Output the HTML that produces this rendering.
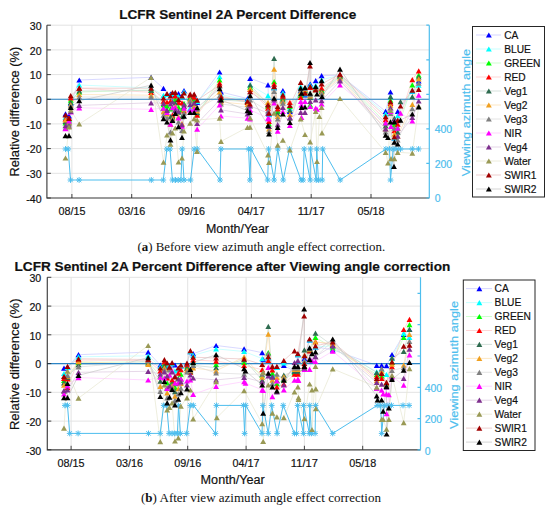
<!DOCTYPE html><html><head><meta charset="utf-8"><style>html,body{margin:0;padding:0;background:#fff;}svg{display:block;}</style></head><body><svg width="550" height="511" viewBox="0 0 550 511">
<rect width="550" height="511" fill="#fff"/>
<path d="M46.9 25.2H429.3 M46.9 49.9H429.3 M46.9 74.6H429.3 M46.9 99.3H429.3 M46.9 123.9H429.3 M46.9 148.6H429.3 M46.9 173.3H429.3 M46.9 198.0H429.3 M71.9 25.2V198.0 M131.7 25.2V198.0 M191.5 25.2V198.0 M251.4 25.2V198.0 M311.2 25.2V198.0 M371.0 25.2V198.0" stroke="#e3e3e3" stroke-width="1" fill="none"/>
<path d="M65.5 113.9L69.0 116.0L70.7 103.7L79.3 80.0L151.1 77.3L163.5 88.4L167.0 94.5L170.5 94.0L172.5 93.5L175.3 94.5L178.5 93.6L182.0 97.0L184.0 90.5L190.2 109.1L194.2 95.1L197.2 102.4L219.6 72.0L221.0 92.0L247.5 98.6L250.2 78.3L268.0 84.9L269.0 114.2L274.1 87.6L277.7 111.5L282.9 90.7L289.9 111.5L300.7 90.7L305.0 95.0L310.2 84.0L315.7 80.7L321.6 75.7L340.0 75.1L385.6 111.3L390.5 92.0L394.4 137.9L397.7 111.3L412.3 91.2L418.7 81.0" stroke="#c8c8ff" stroke-width="0.7" fill="none"/>
<path d="M65.5 117.4L69.0 119.0L70.7 102.7L79.3 85.0L151.1 88.0L163.5 95.4L167.0 94.5L170.5 95.0L172.5 93.5L175.3 93.4L178.5 96.5L182.0 97.0L184.0 91.8L190.2 108.1L194.2 95.1L197.2 101.3L219.6 76.6L221.0 94.9L247.5 99.9L250.2 84.9L268.0 95.7L269.0 114.2L274.1 87.6L277.7 109.0L282.9 92.8L289.9 108.4L300.7 86.6L305.0 94.0L310.2 85.1L315.7 85.3L321.6 79.8L340.0 75.1L385.6 113.9L390.5 96.8L394.4 137.9L397.7 115.7L412.3 91.2L418.7 85.2" stroke="#b8ffff" stroke-width="0.7" fill="none"/>
<path d="M65.5 123.0L69.0 120.0L70.7 100.2L79.3 92.0L151.1 90.0L163.5 104.6L167.0 106.0L170.5 108.8L172.5 116.3L175.3 99.3L178.5 107.2L182.0 109.8L184.0 103.3L190.2 96.9L194.2 100.2L197.2 113.9L219.6 80.0L221.0 98.0L247.5 102.0L250.2 87.2L268.0 106.2L269.0 123.9L274.1 81.6L277.7 111.5L282.9 98.2L289.9 106.3L300.7 95.5L305.0 91.2L310.2 104.8L315.7 88.8L321.6 89.8L340.0 75.8L385.6 122.8L390.5 100.1L394.4 124.6L397.7 128.1L412.3 84.9L418.7 75.2" stroke="#c0ffc0" stroke-width="0.7" fill="none"/>
<path d="M65.5 119.0L69.0 118.0L70.7 97.9L79.3 88.2L151.1 92.3L163.5 101.1L167.0 102.0L170.5 101.0L172.5 115.2L175.3 95.8L178.5 102.4L182.0 102.9L184.0 110.8L190.2 95.5L194.2 97.2L197.2 115.2L219.6 83.0L221.0 96.0L247.5 102.4L250.2 89.4L268.0 108.2L269.0 121.4L274.1 84.1L277.7 109.0L282.9 96.6L289.9 102.3L300.7 97.3L305.0 92.1L310.2 87.4L315.7 89.4L321.6 88.2L340.0 74.9L385.6 119.7L390.5 103.4L394.4 130.7L397.7 124.1L412.3 79.6L418.7 70.8" stroke="#ffc8c8" stroke-width="0.7" fill="none"/>
<path d="M65.5 121.5L69.0 122.0L70.7 102.5L79.3 91.0L151.1 90.5L163.5 108.1L167.0 110.0L170.5 116.5L172.5 117.3L175.3 102.8L178.5 112.1L182.0 116.7L184.0 106.5L190.2 98.3L194.2 103.3L197.2 112.4L219.6 86.0L221.0 100.0L247.5 101.5L250.2 85.0L268.0 104.3L269.0 126.4L274.1 58.3L277.7 114.0L282.9 99.9L289.9 110.3L300.7 93.7L305.0 90.2L310.2 97.3L315.7 88.2L321.6 91.5L340.0 76.6L385.6 125.8L390.5 96.7L394.4 118.4L397.7 132.1L400.5 101.7L412.3 96.7L418.7 77.0" stroke="#c8d8d0" stroke-width="0.7" fill="none"/>
<path d="M65.5 120.0L69.0 123.0L70.7 104.8L79.3 94.5L151.1 95.2L163.5 111.7L167.0 114.0L170.5 124.3L172.5 118.4L175.3 106.4L178.5 116.9L182.0 123.6L184.0 109.7L190.2 99.7L194.2 106.4L197.2 110.8L219.6 92.0L221.0 102.0L247.5 104.5L250.2 89.0L268.0 102.3L269.0 128.9L274.1 69.1L277.7 116.5L282.9 101.5L289.9 114.3L300.7 91.8L305.0 89.3L310.2 95.9L315.7 87.7L321.6 92.8L340.0 78.2L385.6 128.9L390.5 105.1L394.4 134.2L397.7 136.0L412.3 104.3L418.7 78.8" stroke="#fde0b0" stroke-width="0.7" fill="none"/>
<path d="M65.5 127.8L69.0 124.0L70.7 106.0L79.3 97.0L151.1 97.0L163.5 115.2L167.0 118.0L170.5 132.0L172.5 119.4L175.3 109.9L178.5 121.8L182.0 130.5L184.0 112.9L190.2 101.1L194.2 109.4L197.2 109.2L219.6 96.0L221.0 104.0L247.5 107.4L250.2 100.0L268.0 111.0L269.0 131.4L274.1 91.5L277.7 119.0L282.9 103.2L289.9 118.3L300.7 90.0L305.0 88.3L310.2 94.6L315.7 87.1L321.6 94.0L340.0 79.9L385.6 132.0L390.5 113.5L394.4 128.1L397.7 140.0L412.3 108.7L418.7 83.2" stroke="#dcdcdc" stroke-width="0.7" fill="none"/>
<path d="M65.5 128.6L69.0 121.0L70.7 112.0L79.3 107.8L151.1 109.3L163.5 108.1L167.0 112.5L170.5 124.2L172.5 107.7L175.3 107.3L178.5 118.0L182.0 126.1L184.0 108.1L190.2 110.0L194.2 109.0L197.2 129.1L219.6 105.0L221.0 116.0L247.5 118.2L250.0 118.9L250.2 110.0L268.0 118.1L269.0 118.9L274.1 103.0L277.7 131.2L282.9 111.5L289.9 125.5L300.7 101.5L301.5 104.8L301.5 117.3L305.0 101.5L310.2 106.5L315.7 108.1L317.0 109.1L321.6 104.0L340.0 84.9L385.6 122.8L390.5 111.3L391.0 126.3L394.4 120.9L397.7 128.1L400.5 113.1L412.3 121.0L418.7 95.1" stroke="#ffc8ff" stroke-width="0.7" fill="none"/>
<path d="M65.5 125.6L69.0 126.0L70.7 111.4L79.3 105.4L151.1 102.8L163.5 103.3L167.0 110.3L170.5 104.0L172.5 102.0L175.3 110.3L178.5 111.2L182.0 124.7L184.0 104.6L190.2 104.6L194.2 102.9L197.2 123.5L219.6 100.0L221.0 109.9L247.5 114.0L250.2 106.0L268.0 113.1L269.0 126.4L274.1 100.0L277.7 124.6L282.9 107.5L289.9 117.3L300.7 112.3L305.0 112.4L310.2 101.5L315.7 99.8L321.6 100.7L340.0 81.0L385.6 128.9L390.5 107.8L394.4 120.9L397.7 136.1L412.3 117.5L418.7 101.0" stroke="#dcc8e0" stroke-width="0.7" fill="none"/>
<path d="M65.5 158.0L69.0 127.0L70.7 110.0L79.3 124.0L151.1 77.3L163.5 162.2L167.0 135.0L170.5 144.2L172.5 133.0L175.3 128.0L178.5 162.0L182.0 158.0L184.0 131.0L190.2 123.1L194.2 118.7L197.0 151.3L197.2 120.0L219.6 118.2L221.0 141.4L247.5 127.3L250.0 127.1L250.2 118.0L268.0 154.9L269.0 162.3L274.1 113.2L277.7 145.1L282.9 140.2L289.9 150.0L300.7 118.9L305.0 134.5L310.2 141.8L315.7 111.5L317.0 161.5L319.4 116.5L321.6 107.3L322.0 132.8L340.0 98.5L385.6 152.3L388.0 163.0L390.5 110.3L391.0 158.6L394.4 158.6L397.7 152.3L412.3 153.2L418.7 106.0" stroke="#e6e6d0" stroke-width="0.7" fill="none"/>
<path d="M65.5 115.0L69.0 118.5L70.7 95.6L79.3 88.2L151.1 88.2L163.5 98.0L167.0 93.5L170.5 96.0L172.5 92.5L175.3 92.3L178.5 99.5L182.0 96.0L184.0 93.0L190.2 94.1L194.2 94.1L197.2 100.2L219.6 85.0L221.0 97.4L247.5 101.1L250.0 104.0L250.2 91.6L268.0 104.8L269.0 113.2L274.1 86.6L277.7 106.5L282.9 94.9L289.9 105.4L300.7 82.4L305.0 93.1L310.0 65.8L310.2 86.3L315.7 90.0L321.6 84.0L340.0 74.1L385.6 116.6L390.5 101.7L394.4 136.9L397.7 120.1L400.5 106.0L412.3 90.2L418.7 89.3" stroke="#e8c0c0" stroke-width="0.7" fill="none"/>
<path d="M65.5 135.7L69.0 135.7L70.7 107.3L79.3 100.7L151.1 85.2L163.5 118.7L167.0 122.0L170.5 139.8L172.5 120.5L175.3 113.4L178.5 126.6L182.0 137.4L184.0 116.1L190.2 112.5L194.2 112.5L197.2 107.7L219.6 88.6L221.0 99.9L247.5 110.7L250.0 112.4L250.2 95.7L268.0 125.6L269.0 133.9L274.1 98.2L277.7 127.3L282.9 114.0L289.9 122.3L300.7 88.2L301.5 93.2L301.5 107.3L305.0 87.4L305.0 107.0L310.0 62.5L310.2 93.2L315.7 86.5L317.0 94.0L321.6 80.7L322.0 96.5L340.0 69.1L385.6 135.1L388.0 137.5L390.5 121.9L394.0 166.3L394.4 121.9L394.4 142.1L397.7 144.0L400.5 120.1L412.3 114.0L418.7 106.9" stroke="#c8c8c8" stroke-width="0.7" fill="none"/>
<path d="M46.9 99.26H429.3" stroke="#2a84c6" stroke-width="1.2"/>
<path d="M65.5 149.0L68.2 149.0L70.5 180.0L79.1 180.0L151.3 180.0L163.3 180.0L166.9 149.0L170.0 149.0L172.4 180.0L175.5 180.0L178.2 180.0L180.9 180.0L182.2 149.0L184.0 180.0L190.5 180.0L194.2 149.0L197.3 149.0L220.0 180.0L220.9 149.0L248.6 149.0L249.9 180.0L251.0 149.0L267.7 180.0L268.6 149.0L274.1 180.0L277.7 149.0L283.2 180.0L289.5 149.0L301.0 180.0L303.1 180.0L304.2 149.0L310.2 180.0L310.4 149.0L316.2 180.0L316.7 149.0L318.4 180.0L322.2 180.0L322.7 149.0L340.2 180.0L385.9 149.0L389.5 149.0L390.5 180.0L393.2 149.0L396.8 149.0L400.5 149.0L412.3 149.0L418.6 149.0" stroke="#4dbeee" stroke-width="1" fill="none"/>
<path d="M62.6 149.0H68.4M65.5 146.1V151.9M63.3 146.8L67.7 151.2M63.3 151.2L67.7 146.8" stroke="#4dbeee" stroke-width="1" fill="none"/>
<path d="M65.3 149.0H71.1M68.2 146.1V151.9M66.0 146.8L70.4 151.2M66.0 151.2L70.4 146.8" stroke="#4dbeee" stroke-width="1" fill="none"/>
<path d="M67.6 180.0H73.4M70.5 177.1V182.9M68.3 177.8L72.7 182.2M68.3 182.2L72.7 177.8" stroke="#4dbeee" stroke-width="1" fill="none"/>
<path d="M76.2 180.0H82.0M79.1 177.1V182.9M76.9 177.8L81.3 182.2M76.9 182.2L81.3 177.8" stroke="#4dbeee" stroke-width="1" fill="none"/>
<path d="M148.4 180.0H154.2M151.3 177.1V182.9M149.1 177.8L153.5 182.2M149.1 182.2L153.5 177.8" stroke="#4dbeee" stroke-width="1" fill="none"/>
<path d="M160.4 180.0H166.2M163.3 177.1V182.9M161.1 177.8L165.5 182.2M161.1 182.2L165.5 177.8" stroke="#4dbeee" stroke-width="1" fill="none"/>
<path d="M164.0 149.0H169.8M166.9 146.1V151.9M164.7 146.8L169.1 151.2M164.7 151.2L169.1 146.8" stroke="#4dbeee" stroke-width="1" fill="none"/>
<path d="M167.1 149.0H172.9M170.0 146.1V151.9M167.8 146.8L172.2 151.2M167.8 151.2L172.2 146.8" stroke="#4dbeee" stroke-width="1" fill="none"/>
<path d="M169.5 180.0H175.3M172.4 177.1V182.9M170.2 177.8L174.6 182.2M170.2 182.2L174.6 177.8" stroke="#4dbeee" stroke-width="1" fill="none"/>
<path d="M172.6 180.0H178.4M175.5 177.1V182.9M173.3 177.8L177.7 182.2M173.3 182.2L177.7 177.8" stroke="#4dbeee" stroke-width="1" fill="none"/>
<path d="M175.3 180.0H181.1M178.2 177.1V182.9M176.0 177.8L180.4 182.2M176.0 182.2L180.4 177.8" stroke="#4dbeee" stroke-width="1" fill="none"/>
<path d="M178.0 180.0H183.8M180.9 177.1V182.9M178.7 177.8L183.1 182.2M178.7 182.2L183.1 177.8" stroke="#4dbeee" stroke-width="1" fill="none"/>
<path d="M179.3 149.0H185.1M182.2 146.1V151.9M180.0 146.8L184.4 151.2M180.0 151.2L184.4 146.8" stroke="#4dbeee" stroke-width="1" fill="none"/>
<path d="M181.1 180.0H186.9M184.0 177.1V182.9M181.8 177.8L186.2 182.2M181.8 182.2L186.2 177.8" stroke="#4dbeee" stroke-width="1" fill="none"/>
<path d="M187.6 180.0H193.4M190.5 177.1V182.9M188.3 177.8L192.7 182.2M188.3 182.2L192.7 177.8" stroke="#4dbeee" stroke-width="1" fill="none"/>
<path d="M191.3 149.0H197.1M194.2 146.1V151.9M192.0 146.8L196.4 151.2M192.0 151.2L196.4 146.8" stroke="#4dbeee" stroke-width="1" fill="none"/>
<path d="M194.4 149.0H200.2M197.3 146.1V151.9M195.1 146.8L199.5 151.2M195.1 151.2L199.5 146.8" stroke="#4dbeee" stroke-width="1" fill="none"/>
<path d="M217.1 180.0H222.9M220.0 177.1V182.9M217.8 177.8L222.2 182.2M217.8 182.2L222.2 177.8" stroke="#4dbeee" stroke-width="1" fill="none"/>
<path d="M218.0 149.0H223.8M220.9 146.1V151.9M218.7 146.8L223.1 151.2M218.7 151.2L223.1 146.8" stroke="#4dbeee" stroke-width="1" fill="none"/>
<path d="M245.7 149.0H251.5M248.6 146.1V151.9M246.4 146.8L250.8 151.2M246.4 151.2L250.8 146.8" stroke="#4dbeee" stroke-width="1" fill="none"/>
<path d="M247.0 180.0H252.8M249.9 177.1V182.9M247.7 177.8L252.1 182.2M247.7 182.2L252.1 177.8" stroke="#4dbeee" stroke-width="1" fill="none"/>
<path d="M248.1 149.0H253.9M251.0 146.1V151.9M248.8 146.8L253.2 151.2M248.8 151.2L253.2 146.8" stroke="#4dbeee" stroke-width="1" fill="none"/>
<path d="M264.8 180.0H270.6M267.7 177.1V182.9M265.5 177.8L269.9 182.2M265.5 182.2L269.9 177.8" stroke="#4dbeee" stroke-width="1" fill="none"/>
<path d="M265.7 149.0H271.5M268.6 146.1V151.9M266.4 146.8L270.8 151.2M266.4 151.2L270.8 146.8" stroke="#4dbeee" stroke-width="1" fill="none"/>
<path d="M271.2 180.0H277.0M274.1 177.1V182.9M271.9 177.8L276.3 182.2M271.9 182.2L276.3 177.8" stroke="#4dbeee" stroke-width="1" fill="none"/>
<path d="M274.8 149.0H280.6M277.7 146.1V151.9M275.5 146.8L279.9 151.2M275.5 151.2L279.9 146.8" stroke="#4dbeee" stroke-width="1" fill="none"/>
<path d="M280.3 180.0H286.1M283.2 177.1V182.9M281.0 177.8L285.4 182.2M281.0 182.2L285.4 177.8" stroke="#4dbeee" stroke-width="1" fill="none"/>
<path d="M286.6 149.0H292.4M289.5 146.1V151.9M287.3 146.8L291.7 151.2M287.3 151.2L291.7 146.8" stroke="#4dbeee" stroke-width="1" fill="none"/>
<path d="M298.1 180.0H303.9M301.0 177.1V182.9M298.8 177.8L303.2 182.2M298.8 182.2L303.2 177.8" stroke="#4dbeee" stroke-width="1" fill="none"/>
<path d="M300.2 180.0H306.0M303.1 177.1V182.9M300.9 177.8L305.3 182.2M300.9 182.2L305.3 177.8" stroke="#4dbeee" stroke-width="1" fill="none"/>
<path d="M301.3 149.0H307.1M304.2 146.1V151.9M302.0 146.8L306.4 151.2M302.0 151.2L306.4 146.8" stroke="#4dbeee" stroke-width="1" fill="none"/>
<path d="M307.3 180.0H313.1M310.2 177.1V182.9M308.0 177.8L312.4 182.2M308.0 182.2L312.4 177.8" stroke="#4dbeee" stroke-width="1" fill="none"/>
<path d="M307.5 149.0H313.3M310.4 146.1V151.9M308.2 146.8L312.6 151.2M308.2 151.2L312.6 146.8" stroke="#4dbeee" stroke-width="1" fill="none"/>
<path d="M313.3 180.0H319.1M316.2 177.1V182.9M314.0 177.8L318.4 182.2M314.0 182.2L318.4 177.8" stroke="#4dbeee" stroke-width="1" fill="none"/>
<path d="M313.8 149.0H319.6M316.7 146.1V151.9M314.5 146.8L318.9 151.2M314.5 151.2L318.9 146.8" stroke="#4dbeee" stroke-width="1" fill="none"/>
<path d="M315.5 180.0H321.3M318.4 177.1V182.9M316.2 177.8L320.6 182.2M316.2 182.2L320.6 177.8" stroke="#4dbeee" stroke-width="1" fill="none"/>
<path d="M319.3 180.0H325.1M322.2 177.1V182.9M320.0 177.8L324.4 182.2M320.0 182.2L324.4 177.8" stroke="#4dbeee" stroke-width="1" fill="none"/>
<path d="M319.8 149.0H325.6M322.7 146.1V151.9M320.5 146.8L324.9 151.2M320.5 151.2L324.9 146.8" stroke="#4dbeee" stroke-width="1" fill="none"/>
<path d="M337.3 180.0H343.1M340.2 177.1V182.9M338.0 177.8L342.4 182.2M338.0 182.2L342.4 177.8" stroke="#4dbeee" stroke-width="1" fill="none"/>
<path d="M383.0 149.0H388.8M385.9 146.1V151.9M383.7 146.8L388.1 151.2M383.7 151.2L388.1 146.8" stroke="#4dbeee" stroke-width="1" fill="none"/>
<path d="M386.6 149.0H392.4M389.5 146.1V151.9M387.3 146.8L391.7 151.2M387.3 151.2L391.7 146.8" stroke="#4dbeee" stroke-width="1" fill="none"/>
<path d="M387.6 180.0H393.4M390.5 177.1V182.9M388.3 177.8L392.7 182.2M388.3 182.2L392.7 177.8" stroke="#4dbeee" stroke-width="1" fill="none"/>
<path d="M390.3 149.0H396.1M393.2 146.1V151.9M391.0 146.8L395.4 151.2M391.0 151.2L395.4 146.8" stroke="#4dbeee" stroke-width="1" fill="none"/>
<path d="M393.9 149.0H399.7M396.8 146.1V151.9M394.6 146.8L399.0 151.2M394.6 151.2L399.0 146.8" stroke="#4dbeee" stroke-width="1" fill="none"/>
<path d="M397.6 149.0H403.4M400.5 146.1V151.9M398.3 146.8L402.7 151.2M398.3 151.2L402.7 146.8" stroke="#4dbeee" stroke-width="1" fill="none"/>
<path d="M409.4 149.0H415.2M412.3 146.1V151.9M410.1 146.8L414.5 151.2M410.1 151.2L414.5 146.8" stroke="#4dbeee" stroke-width="1" fill="none"/>
<path d="M415.7 149.0H421.5M418.6 146.1V151.9M416.4 146.8L420.8 151.2M416.4 151.2L420.8 146.8" stroke="#4dbeee" stroke-width="1" fill="none"/>
<path d="M62.5 116.5L65.5 111.3L68.5 116.5Z" fill="#0000ff"/>
<path d="M66.0 118.6L69.0 113.4L72.0 118.6Z" fill="#0000ff"/>
<path d="M67.8 106.3L70.7 101.1L73.7 106.3Z" fill="#0000ff"/>
<path d="M76.3 82.6L79.3 77.4L82.2 82.6Z" fill="#0000ff"/>
<path d="M148.2 79.9L151.1 74.7L154.0 79.9Z" fill="#0000ff"/>
<path d="M160.6 91.0L163.5 85.8L166.4 91.0Z" fill="#0000ff"/>
<path d="M164.1 97.1L167.0 91.9L169.9 97.1Z" fill="#0000ff"/>
<path d="M167.6 96.6L170.5 91.4L173.4 96.6Z" fill="#0000ff"/>
<path d="M169.6 96.1L172.5 90.9L175.4 96.1Z" fill="#0000ff"/>
<path d="M172.4 97.1L175.3 91.9L178.2 97.1Z" fill="#0000ff"/>
<path d="M175.6 96.2L178.5 91.0L181.4 96.2Z" fill="#0000ff"/>
<path d="M179.1 99.6L182.0 94.4L184.9 99.6Z" fill="#0000ff"/>
<path d="M181.1 93.1L184.0 87.9L186.9 93.1Z" fill="#0000ff"/>
<path d="M187.2 111.7L190.2 106.5L193.1 111.7Z" fill="#0000ff"/>
<path d="M191.2 97.7L194.2 92.5L197.1 97.7Z" fill="#0000ff"/>
<path d="M194.2 105.0L197.2 99.8L200.1 105.0Z" fill="#0000ff"/>
<path d="M216.7 74.6L219.6 69.4L222.5 74.6Z" fill="#0000ff"/>
<path d="M218.1 94.6L221.0 89.4L223.9 94.6Z" fill="#0000ff"/>
<path d="M244.6 101.2L247.5 96.0L250.4 101.2Z" fill="#0000ff"/>
<path d="M247.2 80.9L250.2 75.7L253.1 80.9Z" fill="#0000ff"/>
<path d="M265.1 87.5L268.0 82.3L270.9 87.5Z" fill="#0000ff"/>
<path d="M266.1 116.8L269.0 111.6L271.9 116.8Z" fill="#0000ff"/>
<path d="M271.2 90.2L274.1 85.0L277.1 90.2Z" fill="#0000ff"/>
<path d="M274.8 114.1L277.7 108.9L280.6 114.1Z" fill="#0000ff"/>
<path d="M279.9 93.3L282.9 88.1L285.8 93.3Z" fill="#0000ff"/>
<path d="M286.9 114.1L289.9 108.9L292.8 114.1Z" fill="#0000ff"/>
<path d="M297.8 93.3L300.7 88.1L303.6 93.3Z" fill="#0000ff"/>
<path d="M302.1 97.6L305.0 92.4L307.9 97.6Z" fill="#0000ff"/>
<path d="M307.2 86.6L310.2 81.4L313.1 86.6Z" fill="#0000ff"/>
<path d="M312.8 83.3L315.7 78.1L318.6 83.3Z" fill="#0000ff"/>
<path d="M318.7 78.3L321.6 73.1L324.6 78.3Z" fill="#0000ff"/>
<path d="M337.1 77.7L340.0 72.5L342.9 77.7Z" fill="#0000ff"/>
<path d="M382.7 113.9L385.6 108.7L388.6 113.9Z" fill="#0000ff"/>
<path d="M387.6 94.6L390.5 89.4L393.4 94.6Z" fill="#0000ff"/>
<path d="M391.4 140.5L394.4 135.3L397.3 140.5Z" fill="#0000ff"/>
<path d="M394.8 113.9L397.7 108.7L400.6 113.9Z" fill="#0000ff"/>
<path d="M409.4 93.8L412.3 88.6L415.2 93.8Z" fill="#0000ff"/>
<path d="M415.8 83.6L418.7 78.4L421.6 83.6Z" fill="#0000ff"/>
<path d="M62.5 120.0L65.5 114.8L68.5 120.0Z" fill="#00ffff"/>
<path d="M66.0 121.6L69.0 116.4L72.0 121.6Z" fill="#00ffff"/>
<path d="M67.8 105.3L70.7 100.1L73.7 105.3Z" fill="#00ffff"/>
<path d="M76.3 87.6L79.3 82.4L82.2 87.6Z" fill="#00ffff"/>
<path d="M148.2 90.6L151.1 85.4L154.0 90.6Z" fill="#00ffff"/>
<path d="M160.6 98.0L163.5 92.8L166.4 98.0Z" fill="#00ffff"/>
<path d="M164.1 97.1L167.0 91.9L169.9 97.1Z" fill="#00ffff"/>
<path d="M167.6 97.6L170.5 92.4L173.4 97.6Z" fill="#00ffff"/>
<path d="M169.6 96.1L172.5 90.9L175.4 96.1Z" fill="#00ffff"/>
<path d="M172.4 96.0L175.3 90.8L178.2 96.0Z" fill="#00ffff"/>
<path d="M175.6 99.1L178.5 93.9L181.4 99.1Z" fill="#00ffff"/>
<path d="M179.1 99.6L182.0 94.4L184.9 99.6Z" fill="#00ffff"/>
<path d="M181.1 94.3L184.0 89.2L186.9 94.3Z" fill="#00ffff"/>
<path d="M187.2 110.7L190.2 105.5L193.1 110.7Z" fill="#00ffff"/>
<path d="M191.2 97.7L194.2 92.5L197.1 97.7Z" fill="#00ffff"/>
<path d="M194.2 103.9L197.2 98.7L200.1 103.9Z" fill="#00ffff"/>
<path d="M216.7 79.2L219.6 74.0L222.5 79.2Z" fill="#00ffff"/>
<path d="M218.1 97.5L221.0 92.3L223.9 97.5Z" fill="#00ffff"/>
<path d="M244.6 102.5L247.5 97.3L250.4 102.5Z" fill="#00ffff"/>
<path d="M247.2 87.5L250.2 82.3L253.1 87.5Z" fill="#00ffff"/>
<path d="M265.1 98.3L268.0 93.1L270.9 98.3Z" fill="#00ffff"/>
<path d="M266.1 116.8L269.0 111.6L271.9 116.8Z" fill="#00ffff"/>
<path d="M271.2 90.2L274.1 85.0L277.1 90.2Z" fill="#00ffff"/>
<path d="M274.8 111.6L277.7 106.4L280.6 111.6Z" fill="#00ffff"/>
<path d="M279.9 95.4L282.9 90.2L285.8 95.4Z" fill="#00ffff"/>
<path d="M286.9 111.0L289.9 105.8L292.8 111.0Z" fill="#00ffff"/>
<path d="M297.8 89.2L300.7 84.0L303.6 89.2Z" fill="#00ffff"/>
<path d="M302.1 96.6L305.0 91.4L307.9 96.6Z" fill="#00ffff"/>
<path d="M307.2 87.7L310.2 82.5L313.1 87.7Z" fill="#00ffff"/>
<path d="M312.8 87.9L315.7 82.8L318.6 87.9Z" fill="#00ffff"/>
<path d="M318.7 82.4L321.6 77.2L324.6 82.4Z" fill="#00ffff"/>
<path d="M337.1 77.7L340.0 72.5L342.9 77.7Z" fill="#00ffff"/>
<path d="M382.7 116.5L385.6 111.3L388.6 116.5Z" fill="#00ffff"/>
<path d="M387.6 99.4L390.5 94.2L393.4 99.4Z" fill="#00ffff"/>
<path d="M391.4 140.5L394.4 135.3L397.3 140.5Z" fill="#00ffff"/>
<path d="M394.8 118.3L397.7 113.1L400.6 118.3Z" fill="#00ffff"/>
<path d="M409.4 93.8L412.3 88.6L415.2 93.8Z" fill="#00ffff"/>
<path d="M415.8 87.8L418.7 82.6L421.6 87.8Z" fill="#00ffff"/>
<path d="M62.5 125.6L65.5 120.4L68.5 125.6Z" fill="#00ff00"/>
<path d="M66.0 122.6L69.0 117.4L72.0 122.6Z" fill="#00ff00"/>
<path d="M67.8 102.8L70.7 97.6L73.7 102.8Z" fill="#00ff00"/>
<path d="M76.3 94.6L79.3 89.4L82.2 94.6Z" fill="#00ff00"/>
<path d="M148.2 92.6L151.1 87.4L154.0 92.6Z" fill="#00ff00"/>
<path d="M160.6 107.2L163.5 102.0L166.4 107.2Z" fill="#00ff00"/>
<path d="M164.1 108.6L167.0 103.4L169.9 108.6Z" fill="#00ff00"/>
<path d="M167.6 111.4L170.5 106.2L173.4 111.4Z" fill="#00ff00"/>
<path d="M169.6 118.9L172.5 113.7L175.4 118.9Z" fill="#00ff00"/>
<path d="M172.4 101.9L175.3 96.7L178.2 101.9Z" fill="#00ff00"/>
<path d="M175.6 109.8L178.5 104.6L181.4 109.8Z" fill="#00ff00"/>
<path d="M179.1 112.4L182.0 107.2L184.9 112.4Z" fill="#00ff00"/>
<path d="M181.1 105.9L184.0 100.7L186.9 105.9Z" fill="#00ff00"/>
<path d="M187.2 99.5L190.2 94.3L193.1 99.5Z" fill="#00ff00"/>
<path d="M191.2 102.8L194.2 97.6L197.1 102.8Z" fill="#00ff00"/>
<path d="M194.2 116.5L197.2 111.3L200.1 116.5Z" fill="#00ff00"/>
<path d="M216.7 82.6L219.6 77.4L222.5 82.6Z" fill="#00ff00"/>
<path d="M218.1 100.6L221.0 95.4L223.9 100.6Z" fill="#00ff00"/>
<path d="M244.6 104.5L247.5 99.4L250.4 104.5Z" fill="#00ff00"/>
<path d="M247.2 89.8L250.2 84.6L253.1 89.8Z" fill="#00ff00"/>
<path d="M265.1 108.8L268.0 103.6L270.9 108.8Z" fill="#00ff00"/>
<path d="M266.1 126.5L269.0 121.3L271.9 126.5Z" fill="#00ff00"/>
<path d="M271.2 84.2L274.1 79.0L277.1 84.2Z" fill="#00ff00"/>
<path d="M274.8 114.1L277.7 108.9L280.6 114.1Z" fill="#00ff00"/>
<path d="M279.9 100.8L282.9 95.6L285.8 100.8Z" fill="#00ff00"/>
<path d="M286.9 108.9L289.9 103.7L292.8 108.9Z" fill="#00ff00"/>
<path d="M297.8 98.1L300.7 92.9L303.6 98.1Z" fill="#00ff00"/>
<path d="M302.1 93.8L305.0 88.6L307.9 93.8Z" fill="#00ff00"/>
<path d="M307.2 107.4L310.2 102.2L313.1 107.4Z" fill="#00ff00"/>
<path d="M312.8 91.4L315.7 86.2L318.6 91.4Z" fill="#00ff00"/>
<path d="M318.7 92.4L321.6 87.2L324.6 92.4Z" fill="#00ff00"/>
<path d="M337.1 78.4L340.0 73.2L342.9 78.4Z" fill="#00ff00"/>
<path d="M382.7 125.4L385.6 120.2L388.6 125.4Z" fill="#00ff00"/>
<path d="M387.6 102.7L390.5 97.5L393.4 102.7Z" fill="#00ff00"/>
<path d="M391.4 127.2L394.4 122.0L397.3 127.2Z" fill="#00ff00"/>
<path d="M394.8 130.7L397.7 125.5L400.6 130.7Z" fill="#00ff00"/>
<path d="M409.4 87.5L412.3 82.3L415.2 87.5Z" fill="#00ff00"/>
<path d="M415.8 77.8L418.7 72.6L421.6 77.8Z" fill="#00ff00"/>
<path d="M62.5 121.6L65.5 116.4L68.5 121.6Z" fill="#ff0000"/>
<path d="M66.0 120.6L69.0 115.4L72.0 120.6Z" fill="#ff0000"/>
<path d="M67.8 100.5L70.7 95.3L73.7 100.5Z" fill="#ff0000"/>
<path d="M76.3 90.8L79.3 85.6L82.2 90.8Z" fill="#ff0000"/>
<path d="M148.2 94.9L151.1 89.7L154.0 94.9Z" fill="#ff0000"/>
<path d="M160.6 103.7L163.5 98.5L166.4 103.7Z" fill="#ff0000"/>
<path d="M164.1 104.6L167.0 99.4L169.9 104.6Z" fill="#ff0000"/>
<path d="M167.6 103.6L170.5 98.4L173.4 103.6Z" fill="#ff0000"/>
<path d="M169.6 117.8L172.5 112.6L175.4 117.8Z" fill="#ff0000"/>
<path d="M172.4 98.4L175.3 93.2L178.2 98.4Z" fill="#ff0000"/>
<path d="M175.6 105.0L178.5 99.8L181.4 105.0Z" fill="#ff0000"/>
<path d="M179.1 105.5L182.0 100.3L184.9 105.5Z" fill="#ff0000"/>
<path d="M181.1 113.4L184.0 108.2L186.9 113.4Z" fill="#ff0000"/>
<path d="M187.2 98.1L190.2 92.9L193.1 98.1Z" fill="#ff0000"/>
<path d="M191.2 99.8L194.2 94.6L197.1 99.8Z" fill="#ff0000"/>
<path d="M194.2 117.8L197.2 112.6L200.1 117.8Z" fill="#ff0000"/>
<path d="M216.7 85.6L219.6 80.4L222.5 85.6Z" fill="#ff0000"/>
<path d="M218.1 98.6L221.0 93.4L223.9 98.6Z" fill="#ff0000"/>
<path d="M244.6 105.0L247.5 99.8L250.4 105.0Z" fill="#ff0000"/>
<path d="M247.2 92.0L250.2 86.8L253.1 92.0Z" fill="#ff0000"/>
<path d="M265.1 110.8L268.0 105.6L270.9 110.8Z" fill="#ff0000"/>
<path d="M266.1 124.0L269.0 118.8L271.9 124.0Z" fill="#ff0000"/>
<path d="M271.2 86.7L274.1 81.5L277.1 86.7Z" fill="#ff0000"/>
<path d="M274.8 111.6L277.7 106.4L280.6 111.6Z" fill="#ff0000"/>
<path d="M279.9 99.2L282.9 94.0L285.8 99.2Z" fill="#ff0000"/>
<path d="M286.9 104.9L289.9 99.7L292.8 104.9Z" fill="#ff0000"/>
<path d="M297.8 99.9L300.7 94.7L303.6 99.9Z" fill="#ff0000"/>
<path d="M302.1 94.7L305.0 89.5L307.9 94.7Z" fill="#ff0000"/>
<path d="M307.2 90.0L310.2 84.8L313.1 90.0Z" fill="#ff0000"/>
<path d="M312.8 92.0L315.7 86.8L318.6 92.0Z" fill="#ff0000"/>
<path d="M318.7 90.8L321.6 85.6L324.6 90.8Z" fill="#ff0000"/>
<path d="M337.1 77.5L340.0 72.3L342.9 77.5Z" fill="#ff0000"/>
<path d="M382.7 122.3L385.6 117.1L388.6 122.3Z" fill="#ff0000"/>
<path d="M387.6 106.0L390.5 100.8L393.4 106.0Z" fill="#ff0000"/>
<path d="M391.4 133.3L394.4 128.1L397.3 133.3Z" fill="#ff0000"/>
<path d="M394.8 126.7L397.7 121.5L400.6 126.7Z" fill="#ff0000"/>
<path d="M409.4 82.2L412.3 77.0L415.2 82.2Z" fill="#ff0000"/>
<path d="M415.8 73.4L418.7 68.2L421.6 73.4Z" fill="#ff0000"/>
<path d="M62.5 124.1L65.5 118.9L68.5 124.1Z" fill="#2e6b4f"/>
<path d="M66.0 124.6L69.0 119.4L72.0 124.6Z" fill="#2e6b4f"/>
<path d="M67.8 105.1L70.7 99.9L73.7 105.1Z" fill="#2e6b4f"/>
<path d="M76.3 93.6L79.3 88.4L82.2 93.6Z" fill="#2e6b4f"/>
<path d="M148.2 93.1L151.1 87.9L154.0 93.1Z" fill="#2e6b4f"/>
<path d="M160.6 110.7L163.5 105.5L166.4 110.7Z" fill="#2e6b4f"/>
<path d="M164.1 112.6L167.0 107.4L169.9 112.6Z" fill="#2e6b4f"/>
<path d="M167.6 119.1L170.5 113.9L173.4 119.1Z" fill="#2e6b4f"/>
<path d="M169.6 119.9L172.5 114.7L175.4 119.9Z" fill="#2e6b4f"/>
<path d="M172.4 105.4L175.3 100.2L178.2 105.4Z" fill="#2e6b4f"/>
<path d="M175.6 114.7L178.5 109.5L181.4 114.7Z" fill="#2e6b4f"/>
<path d="M179.1 119.3L182.0 114.1L184.9 119.3Z" fill="#2e6b4f"/>
<path d="M181.1 109.1L184.0 103.9L186.9 109.1Z" fill="#2e6b4f"/>
<path d="M187.2 100.9L190.2 95.7L193.1 100.9Z" fill="#2e6b4f"/>
<path d="M191.2 105.9L194.2 100.7L197.1 105.9Z" fill="#2e6b4f"/>
<path d="M194.2 115.0L197.2 109.8L200.1 115.0Z" fill="#2e6b4f"/>
<path d="M216.7 88.6L219.6 83.4L222.5 88.6Z" fill="#2e6b4f"/>
<path d="M218.1 102.6L221.0 97.4L223.9 102.6Z" fill="#2e6b4f"/>
<path d="M244.6 104.1L247.5 98.9L250.4 104.1Z" fill="#2e6b4f"/>
<path d="M247.2 87.6L250.2 82.4L253.1 87.6Z" fill="#2e6b4f"/>
<path d="M265.1 106.9L268.0 101.7L270.9 106.9Z" fill="#2e6b4f"/>
<path d="M266.1 129.0L269.0 123.8L271.9 129.0Z" fill="#2e6b4f"/>
<path d="M271.2 60.9L274.1 55.7L277.1 60.9Z" fill="#2e6b4f"/>
<path d="M274.8 116.6L277.7 111.4L280.6 116.6Z" fill="#2e6b4f"/>
<path d="M279.9 102.5L282.9 97.3L285.8 102.5Z" fill="#2e6b4f"/>
<path d="M286.9 112.9L289.9 107.7L292.8 112.9Z" fill="#2e6b4f"/>
<path d="M297.8 96.3L300.7 91.1L303.6 96.3Z" fill="#2e6b4f"/>
<path d="M302.1 92.8L305.0 87.6L307.9 92.8Z" fill="#2e6b4f"/>
<path d="M307.2 99.9L310.2 94.7L313.1 99.9Z" fill="#2e6b4f"/>
<path d="M312.8 90.8L315.7 85.7L318.6 90.8Z" fill="#2e6b4f"/>
<path d="M318.7 94.1L321.6 88.9L324.6 94.1Z" fill="#2e6b4f"/>
<path d="M337.1 79.2L340.0 74.0L342.9 79.2Z" fill="#2e6b4f"/>
<path d="M382.7 128.4L385.6 123.2L388.6 128.4Z" fill="#2e6b4f"/>
<path d="M387.6 99.3L390.5 94.1L393.4 99.3Z" fill="#2e6b4f"/>
<path d="M391.4 121.0L394.4 115.8L397.3 121.0Z" fill="#2e6b4f"/>
<path d="M394.8 134.7L397.7 129.5L400.6 134.7Z" fill="#2e6b4f"/>
<path d="M397.6 104.3L400.5 99.1L403.4 104.3Z" fill="#2e6b4f"/>
<path d="M409.4 99.3L412.3 94.1L415.2 99.3Z" fill="#2e6b4f"/>
<path d="M415.8 79.6L418.7 74.4L421.6 79.6Z" fill="#2e6b4f"/>
<path d="M62.5 122.6L65.5 117.4L68.5 122.6Z" fill="#f0a020"/>
<path d="M66.0 125.6L69.0 120.4L72.0 125.6Z" fill="#f0a020"/>
<path d="M67.8 107.4L70.7 102.2L73.7 107.4Z" fill="#f0a020"/>
<path d="M76.3 97.1L79.3 91.9L82.2 97.1Z" fill="#f0a020"/>
<path d="M148.2 97.8L151.1 92.6L154.0 97.8Z" fill="#f0a020"/>
<path d="M160.6 114.3L163.5 109.1L166.4 114.3Z" fill="#f0a020"/>
<path d="M164.1 116.6L167.0 111.4L169.9 116.6Z" fill="#f0a020"/>
<path d="M167.6 126.9L170.5 121.7L173.4 126.9Z" fill="#f0a020"/>
<path d="M169.6 121.0L172.5 115.8L175.4 121.0Z" fill="#f0a020"/>
<path d="M172.4 109.0L175.3 103.8L178.2 109.0Z" fill="#f0a020"/>
<path d="M175.6 119.5L178.5 114.3L181.4 119.5Z" fill="#f0a020"/>
<path d="M179.1 126.2L182.0 121.0L184.9 126.2Z" fill="#f0a020"/>
<path d="M181.1 112.3L184.0 107.1L186.9 112.3Z" fill="#f0a020"/>
<path d="M187.2 102.3L190.2 97.1L193.1 102.3Z" fill="#f0a020"/>
<path d="M191.2 109.0L194.2 103.8L197.1 109.0Z" fill="#f0a020"/>
<path d="M194.2 113.4L197.2 108.2L200.1 113.4Z" fill="#f0a020"/>
<path d="M216.7 94.6L219.6 89.4L222.5 94.6Z" fill="#f0a020"/>
<path d="M218.1 104.6L221.0 99.4L223.9 104.6Z" fill="#f0a020"/>
<path d="M244.6 107.0L247.5 101.9L250.4 107.0Z" fill="#f0a020"/>
<path d="M247.2 91.6L250.2 86.4L253.1 91.6Z" fill="#f0a020"/>
<path d="M265.1 104.9L268.0 99.7L270.9 104.9Z" fill="#f0a020"/>
<path d="M266.1 131.5L269.0 126.3L271.9 131.5Z" fill="#f0a020"/>
<path d="M271.2 71.7L274.1 66.5L277.1 71.7Z" fill="#f0a020"/>
<path d="M274.8 119.1L277.7 113.9L280.6 119.1Z" fill="#f0a020"/>
<path d="M279.9 104.1L282.9 98.9L285.8 104.1Z" fill="#f0a020"/>
<path d="M286.9 116.9L289.9 111.7L292.8 116.9Z" fill="#f0a020"/>
<path d="M297.8 94.4L300.7 89.2L303.6 94.4Z" fill="#f0a020"/>
<path d="M302.1 91.9L305.0 86.7L307.9 91.9Z" fill="#f0a020"/>
<path d="M307.2 98.5L310.2 93.3L313.1 98.5Z" fill="#f0a020"/>
<path d="M312.8 90.3L315.7 85.1L318.6 90.3Z" fill="#f0a020"/>
<path d="M318.7 95.3L321.6 90.2L324.6 95.3Z" fill="#f0a020"/>
<path d="M337.1 80.8L340.0 75.7L342.9 80.8Z" fill="#f0a020"/>
<path d="M382.7 131.5L385.6 126.3L388.6 131.5Z" fill="#f0a020"/>
<path d="M387.6 107.7L390.5 102.5L393.4 107.7Z" fill="#f0a020"/>
<path d="M391.4 136.8L394.4 131.6L397.3 136.8Z" fill="#f0a020"/>
<path d="M394.8 138.6L397.7 133.4L400.6 138.6Z" fill="#f0a020"/>
<path d="M409.4 106.9L412.3 101.7L415.2 106.9Z" fill="#f0a020"/>
<path d="M415.8 81.4L418.7 76.2L421.6 81.4Z" fill="#f0a020"/>
<path d="M62.5 130.4L65.5 125.2L68.5 130.4Z" fill="#808080"/>
<path d="M66.0 126.6L69.0 121.4L72.0 126.6Z" fill="#808080"/>
<path d="M67.8 108.6L70.7 103.5L73.7 108.6Z" fill="#808080"/>
<path d="M76.3 99.6L79.3 94.4L82.2 99.6Z" fill="#808080"/>
<path d="M148.2 99.6L151.1 94.4L154.0 99.6Z" fill="#808080"/>
<path d="M160.6 117.8L163.5 112.6L166.4 117.8Z" fill="#808080"/>
<path d="M164.1 120.6L167.0 115.4L169.9 120.6Z" fill="#808080"/>
<path d="M167.6 134.6L170.5 129.4L173.4 134.6Z" fill="#808080"/>
<path d="M169.6 122.0L172.5 116.8L175.4 122.0Z" fill="#808080"/>
<path d="M172.4 112.5L175.3 107.3L178.2 112.5Z" fill="#808080"/>
<path d="M175.6 124.4L178.5 119.2L181.4 124.4Z" fill="#808080"/>
<path d="M179.1 133.1L182.0 127.9L184.9 133.1Z" fill="#808080"/>
<path d="M181.1 115.5L184.0 110.3L186.9 115.5Z" fill="#808080"/>
<path d="M187.2 103.7L190.2 98.5L193.1 103.7Z" fill="#808080"/>
<path d="M191.2 112.0L194.2 106.8L197.1 112.0Z" fill="#808080"/>
<path d="M194.2 111.8L197.2 106.7L200.1 111.8Z" fill="#808080"/>
<path d="M216.7 98.6L219.6 93.4L222.5 98.6Z" fill="#808080"/>
<path d="M218.1 106.6L221.0 101.4L223.9 106.6Z" fill="#808080"/>
<path d="M244.6 110.0L247.5 104.8L250.4 110.0Z" fill="#808080"/>
<path d="M247.2 102.6L250.2 97.4L253.1 102.6Z" fill="#808080"/>
<path d="M265.1 113.6L268.0 108.4L270.9 113.6Z" fill="#808080"/>
<path d="M266.1 134.0L269.0 128.8L271.9 134.0Z" fill="#808080"/>
<path d="M271.2 94.1L274.1 88.9L277.1 94.1Z" fill="#808080"/>
<path d="M274.8 121.6L277.7 116.4L280.6 121.6Z" fill="#808080"/>
<path d="M279.9 105.8L282.9 100.6L285.8 105.8Z" fill="#808080"/>
<path d="M286.9 120.9L289.9 115.7L292.8 120.9Z" fill="#808080"/>
<path d="M297.8 92.6L300.7 87.4L303.6 92.6Z" fill="#808080"/>
<path d="M302.1 90.9L305.0 85.7L307.9 90.9Z" fill="#808080"/>
<path d="M307.2 97.2L310.2 92.0L313.1 97.2Z" fill="#808080"/>
<path d="M312.8 89.7L315.7 84.5L318.6 89.7Z" fill="#808080"/>
<path d="M318.7 96.6L321.6 91.4L324.6 96.6Z" fill="#808080"/>
<path d="M337.1 82.5L340.0 77.3L342.9 82.5Z" fill="#808080"/>
<path d="M382.7 134.6L385.6 129.4L388.6 134.6Z" fill="#808080"/>
<path d="M387.6 116.1L390.5 110.9L393.4 116.1Z" fill="#808080"/>
<path d="M391.4 130.7L394.4 125.5L397.3 130.7Z" fill="#808080"/>
<path d="M394.8 142.6L397.7 137.4L400.6 142.6Z" fill="#808080"/>
<path d="M409.4 111.3L412.3 106.1L415.2 111.3Z" fill="#808080"/>
<path d="M415.8 85.8L418.7 80.6L421.6 85.8Z" fill="#808080"/>
<path d="M62.5 131.2L65.5 126.0L68.5 131.2Z" fill="#ff00ff"/>
<path d="M66.0 123.6L69.0 118.4L72.0 123.6Z" fill="#ff00ff"/>
<path d="M67.8 114.6L70.7 109.4L73.7 114.6Z" fill="#ff00ff"/>
<path d="M76.3 110.4L79.3 105.2L82.2 110.4Z" fill="#ff00ff"/>
<path d="M148.2 111.9L151.1 106.7L154.0 111.9Z" fill="#ff00ff"/>
<path d="M160.6 110.7L163.5 105.5L166.4 110.7Z" fill="#ff00ff"/>
<path d="M164.1 115.1L167.0 109.9L169.9 115.1Z" fill="#ff00ff"/>
<path d="M167.6 126.8L170.5 121.6L173.4 126.8Z" fill="#ff00ff"/>
<path d="M169.6 110.3L172.5 105.1L175.4 110.3Z" fill="#ff00ff"/>
<path d="M172.4 109.9L175.3 104.7L178.2 109.9Z" fill="#ff00ff"/>
<path d="M175.6 120.6L178.5 115.4L181.4 120.6Z" fill="#ff00ff"/>
<path d="M179.1 128.7L182.0 123.5L184.9 128.7Z" fill="#ff00ff"/>
<path d="M181.1 110.7L184.0 105.5L186.9 110.7Z" fill="#ff00ff"/>
<path d="M187.2 112.6L190.2 107.4L193.1 112.6Z" fill="#ff00ff"/>
<path d="M191.2 111.6L194.2 106.4L197.1 111.6Z" fill="#ff00ff"/>
<path d="M194.2 131.7L197.2 126.5L200.1 131.7Z" fill="#ff00ff"/>
<path d="M216.7 107.6L219.6 102.4L222.5 107.6Z" fill="#ff00ff"/>
<path d="M218.1 118.6L221.0 113.4L223.9 118.6Z" fill="#ff00ff"/>
<path d="M244.6 120.8L247.5 115.6L250.4 120.8Z" fill="#ff00ff"/>
<path d="M247.2 112.6L250.2 107.4L253.1 112.6Z" fill="#ff00ff"/>
<path d="M247.1 121.5L250.0 116.3L252.9 121.5Z" fill="#ff00ff"/>
<path d="M265.1 120.7L268.0 115.5L270.9 120.7Z" fill="#ff00ff"/>
<path d="M266.1 121.5L269.0 116.3L271.9 121.5Z" fill="#ff00ff"/>
<path d="M271.2 105.6L274.1 100.4L277.1 105.6Z" fill="#ff00ff"/>
<path d="M274.8 133.8L277.7 128.6L280.6 133.8Z" fill="#ff00ff"/>
<path d="M279.9 114.1L282.9 108.9L285.8 114.1Z" fill="#ff00ff"/>
<path d="M286.9 128.1L289.9 122.9L292.8 128.1Z" fill="#ff00ff"/>
<path d="M297.8 104.1L300.7 98.9L303.6 104.1Z" fill="#ff00ff"/>
<path d="M298.6 107.4L301.5 102.2L304.4 107.4Z" fill="#ff00ff"/>
<path d="M298.6 119.9L301.5 114.7L304.4 119.9Z" fill="#ff00ff"/>
<path d="M302.1 104.1L305.0 98.9L307.9 104.1Z" fill="#ff00ff"/>
<path d="M307.2 109.1L310.2 103.9L313.1 109.1Z" fill="#ff00ff"/>
<path d="M312.8 110.7L315.7 105.5L318.6 110.7Z" fill="#ff00ff"/>
<path d="M314.1 111.7L317.0 106.5L319.9 111.7Z" fill="#ff00ff"/>
<path d="M318.7 106.6L321.6 101.4L324.6 106.6Z" fill="#ff00ff"/>
<path d="M337.1 87.5L340.0 82.3L342.9 87.5Z" fill="#ff00ff"/>
<path d="M382.7 125.4L385.6 120.2L388.6 125.4Z" fill="#ff00ff"/>
<path d="M387.6 113.9L390.5 108.7L393.4 113.9Z" fill="#ff00ff"/>
<path d="M388.1 128.9L391.0 123.7L393.9 128.9Z" fill="#ff00ff"/>
<path d="M391.4 123.5L394.4 118.3L397.3 123.5Z" fill="#ff00ff"/>
<path d="M394.8 130.7L397.7 125.5L400.6 130.7Z" fill="#ff00ff"/>
<path d="M397.6 115.7L400.5 110.5L403.4 115.7Z" fill="#ff00ff"/>
<path d="M409.4 123.6L412.3 118.4L415.2 123.6Z" fill="#ff00ff"/>
<path d="M415.8 97.7L418.7 92.5L421.6 97.7Z" fill="#ff00ff"/>
<path d="M62.5 128.2L65.5 123.0L68.5 128.2Z" fill="#7e2f8e"/>
<path d="M66.0 128.6L69.0 123.4L72.0 128.6Z" fill="#7e2f8e"/>
<path d="M67.8 114.0L70.7 108.8L73.7 114.0Z" fill="#7e2f8e"/>
<path d="M76.3 108.0L79.3 102.8L82.2 108.0Z" fill="#7e2f8e"/>
<path d="M148.2 105.4L151.1 100.2L154.0 105.4Z" fill="#7e2f8e"/>
<path d="M160.6 105.9L163.5 100.7L166.4 105.9Z" fill="#7e2f8e"/>
<path d="M164.1 112.9L167.0 107.7L169.9 112.9Z" fill="#7e2f8e"/>
<path d="M167.6 106.6L170.5 101.4L173.4 106.6Z" fill="#7e2f8e"/>
<path d="M169.6 104.6L172.5 99.4L175.4 104.6Z" fill="#7e2f8e"/>
<path d="M172.4 112.9L175.3 107.8L178.2 112.9Z" fill="#7e2f8e"/>
<path d="M175.6 113.8L178.5 108.6L181.4 113.8Z" fill="#7e2f8e"/>
<path d="M179.1 127.3L182.0 122.1L184.9 127.3Z" fill="#7e2f8e"/>
<path d="M181.1 107.2L184.0 102.0L186.9 107.2Z" fill="#7e2f8e"/>
<path d="M187.2 107.2L190.2 102.0L193.1 107.2Z" fill="#7e2f8e"/>
<path d="M191.2 105.5L194.2 100.3L197.1 105.5Z" fill="#7e2f8e"/>
<path d="M194.2 126.1L197.2 120.9L200.1 126.1Z" fill="#7e2f8e"/>
<path d="M216.7 102.6L219.6 97.4L222.5 102.6Z" fill="#7e2f8e"/>
<path d="M218.1 112.5L221.0 107.3L223.9 112.5Z" fill="#7e2f8e"/>
<path d="M244.6 116.6L247.5 111.4L250.4 116.6Z" fill="#7e2f8e"/>
<path d="M247.2 108.6L250.2 103.4L253.1 108.6Z" fill="#7e2f8e"/>
<path d="M265.1 115.7L268.0 110.5L270.9 115.7Z" fill="#7e2f8e"/>
<path d="M266.1 129.0L269.0 123.8L271.9 129.0Z" fill="#7e2f8e"/>
<path d="M271.2 102.6L274.1 97.4L277.1 102.6Z" fill="#7e2f8e"/>
<path d="M274.8 127.2L277.7 122.0L280.6 127.2Z" fill="#7e2f8e"/>
<path d="M279.9 110.1L282.9 104.9L285.8 110.1Z" fill="#7e2f8e"/>
<path d="M286.9 119.9L289.9 114.7L292.8 119.9Z" fill="#7e2f8e"/>
<path d="M297.8 114.9L300.7 109.7L303.6 114.9Z" fill="#7e2f8e"/>
<path d="M302.1 115.0L305.0 109.8L307.9 115.0Z" fill="#7e2f8e"/>
<path d="M307.2 104.1L310.2 98.9L313.1 104.1Z" fill="#7e2f8e"/>
<path d="M312.8 102.4L315.7 97.2L318.6 102.4Z" fill="#7e2f8e"/>
<path d="M318.7 103.3L321.6 98.1L324.6 103.3Z" fill="#7e2f8e"/>
<path d="M337.1 83.6L340.0 78.4L342.9 83.6Z" fill="#7e2f8e"/>
<path d="M382.7 131.5L385.6 126.3L388.6 131.5Z" fill="#7e2f8e"/>
<path d="M387.6 110.4L390.5 105.2L393.4 110.4Z" fill="#7e2f8e"/>
<path d="M391.4 123.5L394.4 118.3L397.3 123.5Z" fill="#7e2f8e"/>
<path d="M394.8 138.7L397.7 133.5L400.6 138.7Z" fill="#7e2f8e"/>
<path d="M409.4 120.1L412.3 114.9L415.2 120.1Z" fill="#7e2f8e"/>
<path d="M415.8 103.6L418.7 98.4L421.6 103.6Z" fill="#7e2f8e"/>
<path d="M62.5 160.6L65.5 155.4L68.5 160.6Z" fill="#999955"/>
<path d="M66.0 129.6L69.0 124.4L72.0 129.6Z" fill="#999955"/>
<path d="M67.8 112.6L70.7 107.4L73.7 112.6Z" fill="#999955"/>
<path d="M76.3 126.6L79.3 121.4L82.2 126.6Z" fill="#999955"/>
<path d="M148.2 79.9L151.1 74.7L154.0 79.9Z" fill="#999955"/>
<path d="M160.6 164.8L163.5 159.6L166.4 164.8Z" fill="#999955"/>
<path d="M164.1 137.6L167.0 132.4L169.9 137.6Z" fill="#999955"/>
<path d="M167.6 146.8L170.5 141.6L173.4 146.8Z" fill="#999955"/>
<path d="M169.6 135.6L172.5 130.4L175.4 135.6Z" fill="#999955"/>
<path d="M172.4 130.6L175.3 125.4L178.2 130.6Z" fill="#999955"/>
<path d="M175.6 164.6L178.5 159.4L181.4 164.6Z" fill="#999955"/>
<path d="M179.1 160.6L182.0 155.4L184.9 160.6Z" fill="#999955"/>
<path d="M181.1 133.6L184.0 128.4L186.9 133.6Z" fill="#999955"/>
<path d="M187.2 125.7L190.2 120.5L193.1 125.7Z" fill="#999955"/>
<path d="M191.2 121.3L194.2 116.1L197.1 121.3Z" fill="#999955"/>
<path d="M194.2 122.6L197.2 117.4L200.1 122.6Z" fill="#999955"/>
<path d="M194.1 153.9L197.0 148.7L199.9 153.9Z" fill="#999955"/>
<path d="M216.7 120.8L219.6 115.6L222.5 120.8Z" fill="#999955"/>
<path d="M218.1 144.0L221.0 138.8L223.9 144.0Z" fill="#999955"/>
<path d="M244.6 129.9L247.5 124.7L250.4 129.9Z" fill="#999955"/>
<path d="M247.2 120.6L250.2 115.4L253.1 120.6Z" fill="#999955"/>
<path d="M247.1 129.7L250.0 124.5L252.9 129.7Z" fill="#999955"/>
<path d="M265.1 157.5L268.0 152.3L270.9 157.5Z" fill="#999955"/>
<path d="M266.1 164.9L269.0 159.7L271.9 164.9Z" fill="#999955"/>
<path d="M271.2 115.8L274.1 110.6L277.1 115.8Z" fill="#999955"/>
<path d="M274.8 147.7L277.7 142.5L280.6 147.7Z" fill="#999955"/>
<path d="M279.9 142.8L282.9 137.6L285.8 142.8Z" fill="#999955"/>
<path d="M286.9 152.6L289.9 147.4L292.8 152.6Z" fill="#999955"/>
<path d="M297.8 121.5L300.7 116.3L303.6 121.5Z" fill="#999955"/>
<path d="M302.1 137.1L305.0 131.9L307.9 137.1Z" fill="#999955"/>
<path d="M307.2 144.4L310.2 139.2L313.1 144.4Z" fill="#999955"/>
<path d="M312.8 114.1L315.7 108.9L318.6 114.1Z" fill="#999955"/>
<path d="M314.1 164.1L317.0 158.9L319.9 164.1Z" fill="#999955"/>
<path d="M318.7 109.9L321.6 104.7L324.6 109.9Z" fill="#999955"/>
<path d="M316.4 119.1L319.4 113.9L322.3 119.1Z" fill="#999955"/>
<path d="M319.1 135.4L322.0 130.2L324.9 135.4Z" fill="#999955"/>
<path d="M337.1 101.1L340.0 95.9L342.9 101.1Z" fill="#999955"/>
<path d="M382.7 154.9L385.6 149.7L388.6 154.9Z" fill="#999955"/>
<path d="M385.1 165.6L388.0 160.4L390.9 165.6Z" fill="#999955"/>
<path d="M387.6 112.9L390.5 107.7L393.4 112.9Z" fill="#999955"/>
<path d="M388.1 161.2L391.0 156.0L393.9 161.2Z" fill="#999955"/>
<path d="M391.4 161.2L394.4 156.0L397.3 161.2Z" fill="#999955"/>
<path d="M394.8 154.9L397.7 149.7L400.6 154.9Z" fill="#999955"/>
<path d="M409.4 155.8L412.3 150.6L415.2 155.8Z" fill="#999955"/>
<path d="M415.8 108.6L418.7 103.4L421.6 108.6Z" fill="#999955"/>
<path d="M62.5 117.6L65.5 112.4L68.5 117.6Z" fill="#a00000"/>
<path d="M66.0 121.1L69.0 115.9L72.0 121.1Z" fill="#a00000"/>
<path d="M67.8 98.2L70.7 93.0L73.7 98.2Z" fill="#a00000"/>
<path d="M76.3 90.8L79.3 85.6L82.2 90.8Z" fill="#a00000"/>
<path d="M148.2 90.8L151.1 85.6L154.0 90.8Z" fill="#a00000"/>
<path d="M160.6 100.6L163.5 95.4L166.4 100.6Z" fill="#a00000"/>
<path d="M164.1 96.1L167.0 90.9L169.9 96.1Z" fill="#a00000"/>
<path d="M167.6 98.6L170.5 93.4L173.4 98.6Z" fill="#a00000"/>
<path d="M169.6 95.1L172.5 89.9L175.4 95.1Z" fill="#a00000"/>
<path d="M172.4 94.9L175.3 89.7L178.2 94.9Z" fill="#a00000"/>
<path d="M175.6 102.1L178.5 96.9L181.4 102.1Z" fill="#a00000"/>
<path d="M179.1 98.6L182.0 93.4L184.9 98.6Z" fill="#a00000"/>
<path d="M181.1 95.6L184.0 90.4L186.9 95.6Z" fill="#a00000"/>
<path d="M187.2 96.7L190.2 91.5L193.1 96.7Z" fill="#a00000"/>
<path d="M191.2 96.7L194.2 91.5L197.1 96.7Z" fill="#a00000"/>
<path d="M194.2 102.8L197.2 97.6L200.1 102.8Z" fill="#a00000"/>
<path d="M216.7 87.6L219.6 82.4L222.5 87.6Z" fill="#a00000"/>
<path d="M218.1 100.0L221.0 94.8L223.9 100.0Z" fill="#a00000"/>
<path d="M244.6 103.7L247.5 98.5L250.4 103.7Z" fill="#a00000"/>
<path d="M247.2 94.2L250.2 89.0L253.1 94.2Z" fill="#a00000"/>
<path d="M247.1 106.6L250.0 101.4L252.9 106.6Z" fill="#a00000"/>
<path d="M265.1 107.4L268.0 102.2L270.9 107.4Z" fill="#a00000"/>
<path d="M266.1 115.8L269.0 110.6L271.9 115.8Z" fill="#a00000"/>
<path d="M271.2 89.2L274.1 84.0L277.1 89.2Z" fill="#a00000"/>
<path d="M274.8 109.1L277.7 103.9L280.6 109.1Z" fill="#a00000"/>
<path d="M279.9 97.5L282.9 92.3L285.8 97.5Z" fill="#a00000"/>
<path d="M286.9 108.0L289.9 102.8L292.8 108.0Z" fill="#a00000"/>
<path d="M297.8 85.0L300.7 79.8L303.6 85.0Z" fill="#a00000"/>
<path d="M302.1 95.7L305.0 90.5L307.9 95.7Z" fill="#a00000"/>
<path d="M307.1 68.4L310.0 63.2L312.9 68.4Z" fill="#a00000"/>
<path d="M307.2 88.9L310.2 83.7L313.1 88.9Z" fill="#a00000"/>
<path d="M312.8 92.6L315.7 87.4L318.6 92.6Z" fill="#a00000"/>
<path d="M318.7 86.6L321.6 81.4L324.6 86.6Z" fill="#a00000"/>
<path d="M337.1 76.7L340.0 71.5L342.9 76.7Z" fill="#a00000"/>
<path d="M382.7 119.2L385.6 114.0L388.6 119.2Z" fill="#a00000"/>
<path d="M387.6 104.3L390.5 99.1L393.4 104.3Z" fill="#a00000"/>
<path d="M391.4 139.5L394.4 134.3L397.3 139.5Z" fill="#a00000"/>
<path d="M394.8 122.7L397.7 117.5L400.6 122.7Z" fill="#a00000"/>
<path d="M397.6 108.6L400.5 103.4L403.4 108.6Z" fill="#a00000"/>
<path d="M409.4 92.8L412.3 87.6L415.2 92.8Z" fill="#a00000"/>
<path d="M415.8 91.9L418.7 86.7L421.6 91.9Z" fill="#a00000"/>
<path d="M62.5 138.3L65.5 133.1L68.5 138.3Z" fill="#000000"/>
<path d="M66.0 138.3L69.0 133.1L72.0 138.3Z" fill="#000000"/>
<path d="M67.8 109.9L70.7 104.7L73.7 109.9Z" fill="#000000"/>
<path d="M76.3 103.3L79.3 98.1L82.2 103.3Z" fill="#000000"/>
<path d="M148.2 87.8L151.1 82.6L154.0 87.8Z" fill="#000000"/>
<path d="M160.6 121.3L163.5 116.1L166.4 121.3Z" fill="#000000"/>
<path d="M164.1 124.6L167.0 119.4L169.9 124.6Z" fill="#000000"/>
<path d="M167.6 142.4L170.5 137.2L173.4 142.4Z" fill="#000000"/>
<path d="M169.6 123.1L172.5 117.9L175.4 123.1Z" fill="#000000"/>
<path d="M172.4 116.0L175.3 110.8L178.2 116.0Z" fill="#000000"/>
<path d="M175.6 129.2L178.5 124.0L181.4 129.2Z" fill="#000000"/>
<path d="M179.1 140.0L182.0 134.8L184.9 140.0Z" fill="#000000"/>
<path d="M181.1 118.7L184.0 113.5L186.9 118.7Z" fill="#000000"/>
<path d="M187.2 115.1L190.2 109.9L193.1 115.1Z" fill="#000000"/>
<path d="M191.2 115.1L194.2 109.9L197.1 115.1Z" fill="#000000"/>
<path d="M194.2 110.3L197.2 105.1L200.1 110.3Z" fill="#000000"/>
<path d="M216.7 91.2L219.6 86.0L222.5 91.2Z" fill="#000000"/>
<path d="M218.1 102.5L221.0 97.3L223.9 102.5Z" fill="#000000"/>
<path d="M244.6 113.3L247.5 108.1L250.4 113.3Z" fill="#000000"/>
<path d="M247.2 98.3L250.2 93.1L253.1 98.3Z" fill="#000000"/>
<path d="M247.1 115.0L250.0 109.8L252.9 115.0Z" fill="#000000"/>
<path d="M265.1 128.2L268.0 123.0L270.9 128.2Z" fill="#000000"/>
<path d="M266.1 136.5L269.0 131.3L271.9 136.5Z" fill="#000000"/>
<path d="M271.2 100.8L274.1 95.6L277.1 100.8Z" fill="#000000"/>
<path d="M274.8 129.9L277.7 124.7L280.6 129.9Z" fill="#000000"/>
<path d="M279.9 116.6L282.9 111.4L285.8 116.6Z" fill="#000000"/>
<path d="M286.9 124.9L289.9 119.7L292.8 124.9Z" fill="#000000"/>
<path d="M297.8 90.8L300.7 85.6L303.6 90.8Z" fill="#000000"/>
<path d="M298.6 95.8L301.5 90.6L304.4 95.8Z" fill="#000000"/>
<path d="M298.6 109.9L301.5 104.7L304.4 109.9Z" fill="#000000"/>
<path d="M302.1 90.0L305.0 84.8L307.9 90.0Z" fill="#000000"/>
<path d="M302.1 109.6L305.0 104.4L307.9 109.6Z" fill="#000000"/>
<path d="M307.1 65.1L310.0 59.9L312.9 65.1Z" fill="#000000"/>
<path d="M307.2 95.8L310.2 90.6L313.1 95.8Z" fill="#000000"/>
<path d="M312.8 89.1L315.7 83.9L318.6 89.1Z" fill="#000000"/>
<path d="M314.1 96.6L317.0 91.4L319.9 96.6Z" fill="#000000"/>
<path d="M318.7 83.3L321.6 78.1L324.6 83.3Z" fill="#000000"/>
<path d="M319.1 99.1L322.0 93.9L324.9 99.1Z" fill="#000000"/>
<path d="M337.1 71.7L340.0 66.5L342.9 71.7Z" fill="#000000"/>
<path d="M382.7 137.7L385.6 132.5L388.6 137.7Z" fill="#000000"/>
<path d="M385.1 140.1L388.0 134.9L390.9 140.1Z" fill="#000000"/>
<path d="M387.6 124.5L390.5 119.3L393.4 124.5Z" fill="#000000"/>
<path d="M391.4 124.5L394.4 119.3L397.3 124.5Z" fill="#000000"/>
<path d="M391.4 144.7L394.4 139.5L397.3 144.7Z" fill="#000000"/>
<path d="M391.1 168.9L394.0 163.7L396.9 168.9Z" fill="#000000"/>
<path d="M394.8 146.6L397.7 141.4L400.6 146.6Z" fill="#000000"/>
<path d="M397.6 122.7L400.5 117.5L403.4 122.7Z" fill="#000000"/>
<path d="M409.4 116.6L412.3 111.4L415.2 116.6Z" fill="#000000"/>
<path d="M415.8 109.5L418.7 104.3L421.6 109.5Z" fill="#000000"/>
<path d="M46.9 25.2V198.0H429.3" stroke="#262626" stroke-width="1.2" fill="none" opacity="0.85"/>
<path d="M46.9 25.2h4 M46.9 49.9h4 M46.9 74.6h4 M46.9 99.3h4 M46.9 123.9h4 M46.9 148.6h4 M46.9 173.3h4 M46.9 198.0h4 M71.9 198.0v-4 M131.7 198.0v-4 M191.5 198.0v-4 M251.4 198.0v-4 M311.2 198.0v-4 M371.0 198.0v-4" stroke="#262626" stroke-width="1" fill="none" opacity="0.85"/>
<path d="M429.3 25.2V198.0 M429.3 198.0h-3 M429.3 163.4h-3 M429.3 128.9h-3 M429.3 94.3h-3 M429.3 59.8h-3 M429.3 25.2h-3" stroke="#4dbeee" stroke-width="1.2" fill="none"/>
<text x="41.6" y="30.002000000000013" font-size="10.6" fill="#111" text-anchor="end" font-weight="normal" font-family="'Liberation Sans', sans-serif" stroke="#111" stroke-width="0.18">30</text>
<text x="41.6" y="54.688" font-size="10.6" fill="#111" text-anchor="end" font-weight="normal" font-family="'Liberation Sans', sans-serif" stroke="#111" stroke-width="0.18">20</text>
<text x="41.6" y="79.37400000000001" font-size="10.6" fill="#111" text-anchor="end" font-weight="normal" font-family="'Liberation Sans', sans-serif" stroke="#111" stroke-width="0.18">10</text>
<text x="41.6" y="104.06" font-size="10.6" fill="#111" text-anchor="end" font-weight="normal" font-family="'Liberation Sans', sans-serif" stroke="#111" stroke-width="0.18">0</text>
<text x="41.6" y="128.746" font-size="10.6" fill="#111" text-anchor="end" font-weight="normal" font-family="'Liberation Sans', sans-serif" stroke="#111" stroke-width="0.18">-10</text>
<text x="41.6" y="153.43200000000002" font-size="10.6" fill="#111" text-anchor="end" font-weight="normal" font-family="'Liberation Sans', sans-serif" stroke="#111" stroke-width="0.18">-20</text>
<text x="41.6" y="178.118" font-size="10.6" fill="#111" text-anchor="end" font-weight="normal" font-family="'Liberation Sans', sans-serif" stroke="#111" stroke-width="0.18">-30</text>
<text x="41.6" y="202.80400000000003" font-size="10.6" fill="#111" text-anchor="end" font-weight="normal" font-family="'Liberation Sans', sans-serif" stroke="#111" stroke-width="0.18">-40</text>
<text x="71.9" y="214.5" font-size="11" fill="#111" text-anchor="middle" font-weight="normal" font-family="'Liberation Sans', sans-serif" textLength="27" lengthAdjust="spacingAndGlyphs" stroke="#111" stroke-width="0.18">08/15</text>
<text x="131.72" y="214.5" font-size="11" fill="#111" text-anchor="middle" font-weight="normal" font-family="'Liberation Sans', sans-serif" textLength="27" lengthAdjust="spacingAndGlyphs" stroke="#111" stroke-width="0.18">03/16</text>
<text x="191.54000000000002" y="214.5" font-size="11" fill="#111" text-anchor="middle" font-weight="normal" font-family="'Liberation Sans', sans-serif" textLength="27" lengthAdjust="spacingAndGlyphs" stroke="#111" stroke-width="0.18">09/16</text>
<text x="251.36" y="214.5" font-size="11" fill="#111" text-anchor="middle" font-weight="normal" font-family="'Liberation Sans', sans-serif" textLength="27" lengthAdjust="spacingAndGlyphs" stroke="#111" stroke-width="0.18">04/17</text>
<text x="311.18" y="214.5" font-size="11" fill="#111" text-anchor="middle" font-weight="normal" font-family="'Liberation Sans', sans-serif" textLength="27" lengthAdjust="spacingAndGlyphs" stroke="#111" stroke-width="0.18">11/17</text>
<text x="371.0" y="214.5" font-size="11" fill="#111" text-anchor="middle" font-weight="normal" font-family="'Liberation Sans', sans-serif" textLength="27" lengthAdjust="spacingAndGlyphs" stroke="#111" stroke-width="0.18">05/18</text>
<text x="434.7" y="202.4" font-size="10.5" fill="#4dbeee" text-anchor="start" font-weight="normal" font-family="'Liberation Sans', sans-serif" stroke="#4dbeee" stroke-width="0.18">0</text>
<text x="434.7" y="167.84" font-size="10.5" fill="#4dbeee" text-anchor="start" font-weight="normal" font-family="'Liberation Sans', sans-serif" stroke="#4dbeee" stroke-width="0.18">200</text>
<text x="434.7" y="133.28" font-size="10.5" fill="#4dbeee" text-anchor="start" font-weight="normal" font-family="'Liberation Sans', sans-serif" stroke="#4dbeee" stroke-width="0.18">400</text>
<text x="206" y="232.6" font-size="12.5" fill="#111" text-anchor="start" font-weight="normal" font-family="'Liberation Sans', sans-serif" textLength="63" lengthAdjust="spacingAndGlyphs" stroke="#111" stroke-width="0.18">Month/Year</text>
<text x="119.2" y="19.0" font-size="13.5" fill="#111" text-anchor="start" font-weight="bold" font-family="'Liberation Sans', sans-serif" textLength="237" lengthAdjust="spacingAndGlyphs" stroke="#111" stroke-width="0.18">LCFR Sentinel 2A Percent Difference</text>
<text transform="translate(19.4,111.6) rotate(-90)" font-size="12.7" fill="#111" text-anchor="middle" font-weight="normal" font-family="'Liberation Sans', sans-serif" textLength="129.8" lengthAdjust="spacingAndGlyphs" stroke="#111" stroke-width="0.18">Relative difference (%)</text>
<text transform="translate(469.5,112.6) rotate(-90)" font-size="11.2" fill="#4dbeee" text-anchor="middle" font-weight="normal" font-family="'Liberation Sans', sans-serif" textLength="127.5" lengthAdjust="spacingAndGlyphs" stroke="#4dbeee" stroke-width="0.18">Viewing azimuth angle</text>
<rect x="472.5" y="26.5" width="72.0" height="170.5" fill="#fff" stroke="#262626" stroke-width="1" opacity="1"/>
<path d="M476 35.0H501" stroke="#c8c8ff" stroke-width="1" opacity="0.75"/>
<path d="M485.9 37.6L488.8 32.4L491.8 37.6Z" fill="#0000ff"/>
<text x="504.2" y="38.6" font-size="10.2" fill="#111" text-anchor="start" font-weight="normal" font-family="'Liberation Sans', sans-serif" stroke="#111" stroke-width="0.18">CA</text>
<path d="M476 49.0H501" stroke="#b8ffff" stroke-width="1" opacity="0.75"/>
<path d="M485.9 51.6L488.8 46.4L491.8 51.6Z" fill="#00ffff"/>
<text x="504.2" y="52.6" font-size="10.2" fill="#111" text-anchor="start" font-weight="normal" font-family="'Liberation Sans', sans-serif" stroke="#111" stroke-width="0.18">BLUE</text>
<path d="M476 63.0H501" stroke="#c0ffc0" stroke-width="1" opacity="0.75"/>
<path d="M485.9 65.6L488.8 60.4L491.8 65.6Z" fill="#00ff00"/>
<text x="504.2" y="66.6" font-size="10.2" fill="#111" text-anchor="start" font-weight="normal" font-family="'Liberation Sans', sans-serif" stroke="#111" stroke-width="0.18">GREEN</text>
<path d="M476 77.0H501" stroke="#ffc8c8" stroke-width="1" opacity="0.75"/>
<path d="M485.9 79.6L488.8 74.4L491.8 79.6Z" fill="#ff0000"/>
<text x="504.2" y="80.6" font-size="10.2" fill="#111" text-anchor="start" font-weight="normal" font-family="'Liberation Sans', sans-serif" stroke="#111" stroke-width="0.18">RED</text>
<path d="M476 91.0H501" stroke="#c8d8d0" stroke-width="1" opacity="0.75"/>
<path d="M485.9 93.6L488.8 88.4L491.8 93.6Z" fill="#2e6b4f"/>
<text x="504.2" y="94.6" font-size="10.2" fill="#111" text-anchor="start" font-weight="normal" font-family="'Liberation Sans', sans-serif" stroke="#111" stroke-width="0.18">Veg1</text>
<path d="M476 105.0H501" stroke="#fde0b0" stroke-width="1" opacity="0.75"/>
<path d="M485.9 107.6L488.8 102.4L491.8 107.6Z" fill="#f0a020"/>
<text x="504.2" y="108.6" font-size="10.2" fill="#111" text-anchor="start" font-weight="normal" font-family="'Liberation Sans', sans-serif" stroke="#111" stroke-width="0.18">Veg2</text>
<path d="M476 119.0H501" stroke="#dcdcdc" stroke-width="1" opacity="0.75"/>
<path d="M485.9 121.6L488.8 116.4L491.8 121.6Z" fill="#808080"/>
<text x="504.2" y="122.6" font-size="10.2" fill="#111" text-anchor="start" font-weight="normal" font-family="'Liberation Sans', sans-serif" stroke="#111" stroke-width="0.18">Veg3</text>
<path d="M476 133.0H501" stroke="#ffc8ff" stroke-width="1" opacity="0.75"/>
<path d="M485.9 135.6L488.8 130.4L491.8 135.6Z" fill="#ff00ff"/>
<text x="504.2" y="136.6" font-size="10.2" fill="#111" text-anchor="start" font-weight="normal" font-family="'Liberation Sans', sans-serif" stroke="#111" stroke-width="0.18">NIR</text>
<path d="M476 147.0H501" stroke="#dcc8e0" stroke-width="1" opacity="0.75"/>
<path d="M485.9 149.6L488.8 144.4L491.8 149.6Z" fill="#7e2f8e"/>
<text x="504.2" y="150.6" font-size="10.2" fill="#111" text-anchor="start" font-weight="normal" font-family="'Liberation Sans', sans-serif" stroke="#111" stroke-width="0.18">Veg4</text>
<path d="M476 161.0H501" stroke="#e6e6d0" stroke-width="1" opacity="0.75"/>
<path d="M485.9 163.6L488.8 158.4L491.8 163.6Z" fill="#999955"/>
<text x="504.2" y="164.6" font-size="10.2" fill="#111" text-anchor="start" font-weight="normal" font-family="'Liberation Sans', sans-serif" stroke="#111" stroke-width="0.18">Water</text>
<path d="M476 175.0H501" stroke="#e8c0c0" stroke-width="1" opacity="0.75"/>
<path d="M485.9 177.6L488.8 172.4L491.8 177.6Z" fill="#a00000"/>
<text x="504.2" y="178.6" font-size="10.2" fill="#111" text-anchor="start" font-weight="normal" font-family="'Liberation Sans', sans-serif" stroke="#111" stroke-width="0.18">SWIR1</text>
<path d="M476 189.0H501" stroke="#c8c8c8" stroke-width="1" opacity="0.75"/>
<path d="M485.9 191.6L488.8 186.4L491.8 191.6Z" fill="#000000"/>
<text x="504.2" y="192.6" font-size="10.2" fill="#111" text-anchor="start" font-weight="normal" font-family="'Liberation Sans', sans-serif" stroke="#111" stroke-width="0.18">SWIR2</text>
<text x="137.6" y="251" font-size="12" fill="#111" text-anchor="start" font-weight="normal" font-family="'Liberation Serif', serif" textLength="247.5" lengthAdjust="spacingAndGlyphs">(<tspan font-weight="bold">a</tspan>) Before view azimuth angle effect correction.</text>
<path d="M47.3 277.3H420.5 M47.3 306.1H420.5 M47.3 334.8H420.5 M47.3 363.6H420.5 M47.3 392.3H420.5 M47.3 421.1H420.5 M47.3 449.8H420.5 M71.1 277.3V449.8 M129.4 277.3V449.8 M187.7 277.3V449.8 M246.1 277.3V449.8 M304.4 277.3V449.8 M362.7 277.3V449.8" stroke="#e3e3e3" stroke-width="1" fill="none"/>
<path d="M64.0 368.2L67.5 367.4L78.5 354.7L148.2 352.1L160.3 365.0L164.4 367.0L167.2 364.0L169.5 366.0L172.1 363.6L175.0 365.0L178.3 369.0L180.9 366.0L187.0 364.0L190.4 351.7L193.2 353.7L216.1 345.5L244.1 348.9L262.2 352.7L263.2 359.6L268.3 357.6L272.4 376.2L276.9 367.4L283.8 365.4L294.5 371.3L297.9 354.7L304.4 358.6L309.6 340.0L315.5 346.9L332.7 349.8L376.7 365.3L381.6 365.3L386.5 365.7L392.0 354.5L403.7 334.4L409.5 329.5" stroke="#c8c8ff" stroke-width="0.7" fill="none"/>
<path d="M64.0 373.5L67.5 367.4L78.5 356.8L148.2 355.8L160.3 366.5L164.4 366.0L167.2 364.0L169.5 366.6L172.1 363.6L175.0 371.0L178.3 369.0L180.9 366.0L187.0 364.0L190.4 351.7L193.2 355.4L216.1 348.9L244.1 351.5L262.2 358.6L268.3 357.6L272.4 375.2L276.9 367.4L283.8 362.9L294.5 370.3L297.9 354.7L304.4 361.1L309.6 340.0L315.5 346.9L332.7 345.9L376.7 371.9L381.6 369.4L386.5 374.5L392.0 358.1L403.7 333.4L409.5 337.4" stroke="#b8ffff" stroke-width="0.7" fill="none"/>
<path d="M64.0 380.5L67.5 377.9L78.5 362.4L148.2 361.9L160.3 376.1L164.4 363.8L167.2 383.0L169.5 368.3L172.1 381.9L175.0 387.4L178.3 378.4L180.9 374.2L187.0 366.6L190.4 371.6L193.2 362.6L216.1 364.4L244.1 362.3L262.2 374.9L268.3 352.7L272.4 373.2L276.9 383.7L283.8 379.6L294.5 372.6L297.9 372.6L304.4 368.4L309.6 350.2L315.5 337.4L332.7 347.9L376.7 374.5L381.6 375.9L386.5 383.7L392.0 362.2L403.7 337.3L409.5 324.6" stroke="#c0ffc0" stroke-width="0.7" fill="none"/>
<path d="M64.0 378.4L67.5 378.8L67.5 387.6L78.5 360.0L148.2 360.7L160.3 371.0L164.4 361.8L167.2 378.0L169.5 367.7L172.1 380.0L175.0 383.0L178.3 373.2L180.9 369.6L187.0 364.8L190.4 372.2L193.2 359.9L216.1 361.2L244.1 365.5L262.2 369.7L268.3 360.5L272.4 369.8L276.9 386.9L283.8 384.0L294.5 374.2L297.9 374.2L304.4 365.9L309.6 350.8L315.5 341.7L332.7 344.9L376.7 376.4L381.6 378.4L386.5 383.0L392.0 366.6L403.7 329.5L409.5 319.4" stroke="#ffc8c8" stroke-width="0.7" fill="none"/>
<path d="M64.0 382.9L67.5 377.1L78.5 364.7L148.2 363.2L160.3 381.2L164.4 365.9L167.2 388.0L169.5 368.9L172.1 383.8L175.0 391.7L178.3 383.6L180.9 378.9L187.0 368.4L190.4 371.0L193.2 365.3L216.1 367.7L244.1 359.6L262.2 380.1L268.3 326.4L272.4 376.6L276.9 380.5L283.8 375.2L294.5 371.1L297.9 371.1L304.4 349.8L309.6 349.6L315.5 333.2L332.7 345.7L376.7 372.5L381.6 373.5L386.5 384.4L392.0 357.9L403.7 351.4L409.5 329.5" stroke="#c8d8d0" stroke-width="0.7" fill="none"/>
<path d="M64.0 385.2L67.5 376.2L78.5 361.7L148.2 364.4L160.3 386.3L164.4 367.9L167.2 392.9L169.5 369.4L172.1 385.7L175.0 396.1L178.3 388.7L180.9 383.5L187.0 370.2L190.4 370.5L193.2 368.0L216.1 370.9L244.1 356.9L262.2 377.1L268.3 334.2L272.4 380.1L276.9 377.4L283.8 376.8L294.5 369.5L297.9 369.5L304.4 355.3L309.6 349.1L315.5 342.0L332.7 343.4L376.7 380.3L381.6 371.1L386.5 385.0L392.0 364.2L403.7 365.1L409.5 334.4" stroke="#fde0b0" stroke-width="0.7" fill="none"/>
<path d="M64.0 391.4L67.5 375.3L78.5 367.0L148.2 361.0L160.3 391.4L164.4 370.0L167.2 397.9L169.5 370.0L172.1 387.6L175.0 400.4L178.3 393.9L180.9 388.1L187.0 372.0L190.4 369.9L193.2 365.2L216.1 373.0L244.1 374.1L262.2 374.2L268.3 353.7L272.4 383.5L276.9 374.2L283.8 378.5L294.5 368.0L297.9 368.0L304.4 360.9L309.6 348.5L315.5 356.6L332.7 341.2L376.7 388.1L381.6 368.6L386.5 385.7L392.0 370.5L403.7 367.6L409.5 341.3" stroke="#dcdcdc" stroke-width="0.7" fill="none"/>
<path d="M64.0 394.0L67.5 385.8L78.5 377.6L148.2 380.0L160.3 377.1L164.4 378.0L167.2 388.3L169.5 375.0L172.1 371.0L175.0 383.0L178.3 383.0L180.9 379.0L187.0 381.0L190.4 380.0L193.2 394.3L216.1 386.3L244.1 381.6L245.5 383.2L262.2 389.8L263.2 390.5L268.3 367.4L272.4 396.7L276.9 381.0L283.8 389.8L294.5 380.1L297.9 379.1L298.5 380.5L304.4 369.3L309.6 369.3L312.0 360.5L315.5 361.5L332.7 351.2L376.7 388.1L381.6 390.1L383.2 393.9L386.5 394.0L386.6 413.6L388.9 394.7L392.0 376.4L403.7 385.2L409.5 354.9" stroke="#ffc8ff" stroke-width="0.7" fill="none"/>
<path d="M64.0 390.5L67.5 390.0L78.5 372.3L148.2 371.3L160.3 374.0L164.4 372.0L167.2 376.0L169.5 386.1L172.1 372.0L175.0 376.0L178.3 379.0L180.9 382.0L187.0 384.9L190.4 375.0L193.2 378.0L216.1 379.9L244.1 377.3L262.2 382.0L268.3 376.0L272.4 377.1L276.9 391.8L283.8 385.0L294.5 362.5L297.9 360.5L304.4 367.9L309.6 358.6L315.5 356.6L332.7 345.9L376.7 382.3L381.6 384.2L386.5 387.1L392.0 377.9L403.7 378.4L409.5 349.1" stroke="#dcc8e0" stroke-width="0.7" fill="none"/>
<path d="M64.0 428.2L67.5 371.1L78.5 398.2L148.2 345.5L160.3 441.6L164.4 385.0L167.2 409.9L169.5 407.3L172.1 402.9L175.0 441.0L178.3 437.8L180.9 406.1L187.0 397.8L190.4 390.0L193.2 418.8L216.1 381.6L216.8 417.7L244.1 390.6L262.2 423.7L263.2 372.3L263.2 441.4L268.3 385.0L272.4 413.2L276.9 416.8L283.8 417.7L294.5 391.8L297.9 386.9L298.5 397.7L298.5 399.5L304.4 418.6L309.6 384.0L312.0 389.8L312.0 429.5L315.5 366.4L315.8 388.9L315.8 408.6L332.7 368.8L376.7 387.1L381.6 419.3L383.2 419.3L386.5 429.1L388.9 419.3L392.0 375.4L403.7 422.6L409.5 368.6" stroke="#e6e6d0" stroke-width="0.7" fill="none"/>
<path d="M64.0 376.4L67.5 366.4L78.5 358.8L148.2 359.5L160.3 368.0L164.4 359.7L167.2 363.0L169.5 367.1L172.1 362.6L175.0 377.0L178.3 368.0L180.9 365.0L187.0 363.0L190.4 350.7L193.2 357.2L216.1 358.0L244.1 359.0L262.2 364.5L268.3 356.6L272.4 366.4L276.9 366.4L283.8 360.5L294.5 350.8L297.9 353.7L304.2 316.0L304.4 363.5L304.6 355.7L309.6 339.0L315.5 345.9L332.7 342.0L376.7 378.4L381.6 373.5L386.5 382.3L392.0 361.8L403.7 346.1L409.5 345.2" stroke="#e8c0c0" stroke-width="0.7" fill="none"/>
<path d="M64.0 397.6L67.5 383.5L67.5 397.6L78.5 375.3L148.2 357.6L160.3 396.5L164.4 381.3L167.2 402.9L169.5 397.2L172.1 389.5L175.0 404.8L178.3 399.1L180.9 392.7L187.0 388.9L190.4 369.3L193.2 362.5L216.1 354.7L244.1 368.7L245.5 371.0L262.2 385.0L263.2 413.2L268.3 373.2L272.4 386.9L276.9 390.8L283.8 380.1L294.5 366.4L297.9 366.4L304.2 308.8L304.4 366.4L309.6 347.9L309.6 359.6L312.0 353.7L315.5 351.8L332.7 339.0L376.7 395.9L377.5 399.8L381.6 399.8L383.2 411.1L386.5 386.4L386.6 434.0L388.9 407.8L392.0 379.3L403.7 370.2L409.5 362.3" stroke="#c8c8c8" stroke-width="0.7" fill="none"/>
<path d="M47.3 363.55H420.5" stroke="#2a84c6" stroke-width="1.2"/>
<path d="M64.9 405.4L67.5 405.4L69.7 433.4L78.1 433.4L148.5 433.4L160.2 433.4L163.7 405.4L166.7 405.4L169.1 433.4L172.1 433.4L174.7 433.4L177.4 433.4L178.6 405.4L180.4 433.4L186.7 433.4L190.3 405.4L193.4 405.4L215.5 433.4L216.4 405.4L243.4 405.4L244.6 433.4L245.7 405.4L262.0 433.4L262.9 405.4L268.2 433.4L271.7 405.4L277.1 433.4L283.2 405.4L294.5 433.4L296.5 433.4L297.6 405.4L303.4 433.4L303.6 405.4L309.3 433.4L309.8 405.4L311.4 433.4L315.1 433.4L315.6 405.4L332.7 433.4L377.2 405.4L380.7 405.4L381.7 433.4L384.3 405.4L387.9 405.4L391.5 405.4L403.0 405.4L409.1 405.4" stroke="#4dbeee" stroke-width="1" fill="none"/>
<path d="M62.0 405.4H67.8M64.9 402.5V408.3M62.7 403.2L67.0 407.6M62.7 407.6L67.0 403.2" stroke="#4dbeee" stroke-width="1" fill="none"/>
<path d="M64.6 405.4H70.4M67.5 402.5V408.3M65.3 403.2L69.7 407.6M65.3 407.6L69.7 403.2" stroke="#4dbeee" stroke-width="1" fill="none"/>
<path d="M66.8 433.4H72.6M69.7 430.5V436.3M67.6 431.2L71.9 435.6M67.6 435.6L71.9 431.2" stroke="#4dbeee" stroke-width="1" fill="none"/>
<path d="M75.2 433.4H81.0M78.1 430.5V436.3M75.9 431.2L80.3 435.6M75.9 435.6L80.3 431.2" stroke="#4dbeee" stroke-width="1" fill="none"/>
<path d="M145.6 433.4H151.4M148.5 430.5V436.3M146.3 431.2L150.7 435.6M146.3 435.6L150.7 431.2" stroke="#4dbeee" stroke-width="1" fill="none"/>
<path d="M157.3 433.4H163.1M160.2 430.5V436.3M158.0 431.2L162.4 435.6M158.0 435.6L162.4 431.2" stroke="#4dbeee" stroke-width="1" fill="none"/>
<path d="M160.8 405.4H166.6M163.7 402.5V408.3M161.5 403.2L165.9 407.6M161.5 407.6L165.9 403.2" stroke="#4dbeee" stroke-width="1" fill="none"/>
<path d="M163.8 405.4H169.6M166.7 402.5V408.3M164.6 403.2L168.9 407.6M164.6 407.6L168.9 403.2" stroke="#4dbeee" stroke-width="1" fill="none"/>
<path d="M166.2 433.4H172.0M169.1 430.5V436.3M166.9 431.2L171.3 435.6M166.9 435.6L171.3 431.2" stroke="#4dbeee" stroke-width="1" fill="none"/>
<path d="M169.2 433.4H175.0M172.1 430.5V436.3M169.9 431.2L174.3 435.6M169.9 435.6L174.3 431.2" stroke="#4dbeee" stroke-width="1" fill="none"/>
<path d="M171.8 433.4H177.6M174.7 430.5V436.3M172.6 431.2L176.9 435.6M172.6 435.6L176.9 431.2" stroke="#4dbeee" stroke-width="1" fill="none"/>
<path d="M174.5 433.4H180.3M177.4 430.5V436.3M175.2 431.2L179.5 435.6M175.2 435.6L179.5 431.2" stroke="#4dbeee" stroke-width="1" fill="none"/>
<path d="M175.7 405.4H181.5M178.6 402.5V408.3M176.5 403.2L180.8 407.6M176.5 407.6L180.8 403.2" stroke="#4dbeee" stroke-width="1" fill="none"/>
<path d="M177.5 433.4H183.3M180.4 430.5V436.3M178.2 431.2L182.6 435.6M178.2 435.6L182.6 431.2" stroke="#4dbeee" stroke-width="1" fill="none"/>
<path d="M183.8 433.4H189.6M186.7 430.5V436.3M184.6 431.2L188.9 435.6M184.6 435.6L188.9 431.2" stroke="#4dbeee" stroke-width="1" fill="none"/>
<path d="M187.4 405.4H193.2M190.3 402.5V408.3M188.2 403.2L192.5 407.6M188.2 407.6L192.5 403.2" stroke="#4dbeee" stroke-width="1" fill="none"/>
<path d="M190.5 405.4H196.3M193.4 402.5V408.3M191.2 403.2L195.5 407.6M191.2 407.6L195.5 403.2" stroke="#4dbeee" stroke-width="1" fill="none"/>
<path d="M212.6 433.4H218.4M215.5 430.5V436.3M213.3 431.2L217.7 435.6M213.3 435.6L217.7 431.2" stroke="#4dbeee" stroke-width="1" fill="none"/>
<path d="M213.5 405.4H219.3M216.4 402.5V408.3M214.2 403.2L218.5 407.6M214.2 407.6L218.5 403.2" stroke="#4dbeee" stroke-width="1" fill="none"/>
<path d="M240.5 405.4H246.3M243.4 402.5V408.3M241.2 403.2L245.5 407.6M241.2 407.6L245.5 403.2" stroke="#4dbeee" stroke-width="1" fill="none"/>
<path d="M241.7 433.4H247.5M244.6 430.5V436.3M242.5 431.2L246.8 435.6M242.5 435.6L246.8 431.2" stroke="#4dbeee" stroke-width="1" fill="none"/>
<path d="M242.8 405.4H248.6M245.7 402.5V408.3M243.5 403.2L247.9 407.6M243.5 407.6L247.9 403.2" stroke="#4dbeee" stroke-width="1" fill="none"/>
<path d="M259.1 433.4H264.9M262.0 430.5V436.3M259.8 431.2L264.2 435.6M259.8 435.6L264.2 431.2" stroke="#4dbeee" stroke-width="1" fill="none"/>
<path d="M260.0 405.4H265.8M262.9 402.5V408.3M260.7 403.2L265.0 407.6M260.7 407.6L265.0 403.2" stroke="#4dbeee" stroke-width="1" fill="none"/>
<path d="M265.3 433.4H271.1M268.2 430.5V436.3M266.1 431.2L270.4 435.6M266.1 435.6L270.4 431.2" stroke="#4dbeee" stroke-width="1" fill="none"/>
<path d="M268.8 405.4H274.6M271.7 402.5V408.3M269.6 403.2L273.9 407.6M269.6 407.6L273.9 403.2" stroke="#4dbeee" stroke-width="1" fill="none"/>
<path d="M274.2 433.4H280.0M277.1 430.5V436.3M274.9 431.2L279.3 435.6M274.9 435.6L279.3 431.2" stroke="#4dbeee" stroke-width="1" fill="none"/>
<path d="M280.3 405.4H286.1M283.2 402.5V408.3M281.1 403.2L285.4 407.6M281.1 407.6L285.4 403.2" stroke="#4dbeee" stroke-width="1" fill="none"/>
<path d="M291.6 433.4H297.4M294.5 430.5V436.3M292.3 431.2L296.6 435.6M292.3 435.6L296.6 431.2" stroke="#4dbeee" stroke-width="1" fill="none"/>
<path d="M293.6 433.4H299.4M296.5 430.5V436.3M294.3 431.2L298.7 435.6M294.3 435.6L298.7 431.2" stroke="#4dbeee" stroke-width="1" fill="none"/>
<path d="M294.7 405.4H300.5M297.6 402.5V408.3M295.4 403.2L299.8 407.6M295.4 407.6L299.8 403.2" stroke="#4dbeee" stroke-width="1" fill="none"/>
<path d="M300.5 433.4H306.3M303.4 430.5V436.3M301.2 431.2L305.6 435.6M301.2 435.6L305.6 431.2" stroke="#4dbeee" stroke-width="1" fill="none"/>
<path d="M300.7 405.4H306.5M303.6 402.5V408.3M301.4 403.2L305.8 407.6M301.4 407.6L305.8 403.2" stroke="#4dbeee" stroke-width="1" fill="none"/>
<path d="M306.4 433.4H312.2M309.3 430.5V436.3M307.1 431.2L311.4 435.6M307.1 435.6L311.4 431.2" stroke="#4dbeee" stroke-width="1" fill="none"/>
<path d="M306.9 405.4H312.7M309.8 402.5V408.3M307.6 403.2L311.9 407.6M307.6 407.6L311.9 403.2" stroke="#4dbeee" stroke-width="1" fill="none"/>
<path d="M308.5 433.4H314.3M311.4 430.5V436.3M309.2 431.2L313.6 435.6M309.2 435.6L313.6 431.2" stroke="#4dbeee" stroke-width="1" fill="none"/>
<path d="M312.2 433.4H318.0M315.1 430.5V436.3M312.9 431.2L317.3 435.6M312.9 435.6L317.3 431.2" stroke="#4dbeee" stroke-width="1" fill="none"/>
<path d="M312.7 405.4H318.5M315.6 402.5V408.3M313.4 403.2L317.8 407.6M313.4 407.6L317.8 403.2" stroke="#4dbeee" stroke-width="1" fill="none"/>
<path d="M329.8 433.4H335.6M332.7 430.5V436.3M330.5 431.2L334.8 435.6M330.5 435.6L334.8 431.2" stroke="#4dbeee" stroke-width="1" fill="none"/>
<path d="M374.3 405.4H380.1M377.2 402.5V408.3M375.1 403.2L379.4 407.6M375.1 407.6L379.4 403.2" stroke="#4dbeee" stroke-width="1" fill="none"/>
<path d="M377.8 405.4H383.6M380.7 402.5V408.3M378.6 403.2L382.9 407.6M378.6 407.6L382.9 403.2" stroke="#4dbeee" stroke-width="1" fill="none"/>
<path d="M378.8 433.4H384.6M381.7 430.5V436.3M379.5 431.2L383.9 435.6M379.5 435.6L383.9 431.2" stroke="#4dbeee" stroke-width="1" fill="none"/>
<path d="M381.4 405.4H387.2M384.3 402.5V408.3M382.2 403.2L386.5 407.6M382.2 407.6L386.5 403.2" stroke="#4dbeee" stroke-width="1" fill="none"/>
<path d="M385.0 405.4H390.8M387.9 402.5V408.3M385.7 403.2L390.0 407.6M385.7 407.6L390.0 403.2" stroke="#4dbeee" stroke-width="1" fill="none"/>
<path d="M388.6 405.4H394.4M391.5 402.5V408.3M389.3 403.2L393.6 407.6M389.3 407.6L393.6 403.2" stroke="#4dbeee" stroke-width="1" fill="none"/>
<path d="M400.1 405.4H405.9M403.0 402.5V408.3M400.8 403.2L405.1 407.6M400.8 407.6L405.1 403.2" stroke="#4dbeee" stroke-width="1" fill="none"/>
<path d="M406.2 405.4H412.0M409.1 402.5V408.3M406.9 403.2L411.3 407.6M406.9 407.6L411.3 403.2" stroke="#4dbeee" stroke-width="1" fill="none"/>
<path d="M61.0 370.8L64.0 365.6L67.0 370.8Z" fill="#0000ff"/>
<path d="M64.5 370.0L67.5 364.8L70.5 370.0Z" fill="#0000ff"/>
<path d="M75.5 357.3L78.5 352.1L81.5 357.3Z" fill="#0000ff"/>
<path d="M145.2 354.7L148.2 349.5L151.1 354.7Z" fill="#0000ff"/>
<path d="M157.4 367.6L160.3 362.4L163.2 367.6Z" fill="#0000ff"/>
<path d="M161.5 369.6L164.4 364.4L167.3 369.6Z" fill="#0000ff"/>
<path d="M164.2 366.6L167.2 361.4L170.1 366.6Z" fill="#0000ff"/>
<path d="M166.6 368.6L169.5 363.4L172.4 368.6Z" fill="#0000ff"/>
<path d="M169.2 366.2L172.1 361.0L175.0 366.2Z" fill="#0000ff"/>
<path d="M172.1 367.6L175.0 362.4L177.9 367.6Z" fill="#0000ff"/>
<path d="M175.4 371.6L178.3 366.4L181.2 371.6Z" fill="#0000ff"/>
<path d="M178.0 368.6L180.9 363.4L183.8 368.6Z" fill="#0000ff"/>
<path d="M184.1 366.6L187.0 361.4L189.9 366.6Z" fill="#0000ff"/>
<path d="M187.5 354.3L190.4 349.1L193.3 354.3Z" fill="#0000ff"/>
<path d="M190.2 356.3L193.2 351.1L196.1 356.3Z" fill="#0000ff"/>
<path d="M213.2 348.1L216.1 342.9L219.0 348.1Z" fill="#0000ff"/>
<path d="M241.2 351.5L244.1 346.3L247.0 351.5Z" fill="#0000ff"/>
<path d="M259.2 355.3L262.2 350.1L265.1 355.3Z" fill="#0000ff"/>
<path d="M260.2 362.2L263.2 357.0L266.1 362.2Z" fill="#0000ff"/>
<path d="M265.4 360.2L268.3 355.0L271.2 360.2Z" fill="#0000ff"/>
<path d="M269.4 378.8L272.4 373.6L275.3 378.8Z" fill="#0000ff"/>
<path d="M273.9 370.0L276.9 364.8L279.8 370.0Z" fill="#0000ff"/>
<path d="M280.9 368.0L283.8 362.8L286.8 368.0Z" fill="#0000ff"/>
<path d="M291.6 373.9L294.5 368.7L297.4 373.9Z" fill="#0000ff"/>
<path d="M294.9 357.3L297.9 352.1L300.8 357.3Z" fill="#0000ff"/>
<path d="M301.4 361.2L304.4 356.0L307.3 361.2Z" fill="#0000ff"/>
<path d="M306.7 342.6L309.6 337.4L312.6 342.6Z" fill="#0000ff"/>
<path d="M312.6 349.5L315.5 344.3L318.4 349.5Z" fill="#0000ff"/>
<path d="M329.8 352.4L332.7 347.2L335.6 352.4Z" fill="#0000ff"/>
<path d="M373.8 367.9L376.7 362.7L379.6 367.9Z" fill="#0000ff"/>
<path d="M378.7 367.9L381.6 362.7L384.6 367.9Z" fill="#0000ff"/>
<path d="M383.6 368.3L386.5 363.1L389.4 368.3Z" fill="#0000ff"/>
<path d="M389.1 357.1L392.0 351.9L394.9 357.1Z" fill="#0000ff"/>
<path d="M400.8 337.0L403.7 331.8L406.6 337.0Z" fill="#0000ff"/>
<path d="M406.6 332.1L409.5 326.9L412.4 332.1Z" fill="#0000ff"/>
<path d="M61.0 376.1L64.0 370.9L67.0 376.1Z" fill="#00ffff"/>
<path d="M64.5 370.0L67.5 364.8L70.5 370.0Z" fill="#00ffff"/>
<path d="M75.5 359.4L78.5 354.1L81.5 359.4Z" fill="#00ffff"/>
<path d="M145.2 358.4L148.2 353.2L151.1 358.4Z" fill="#00ffff"/>
<path d="M157.4 369.1L160.3 363.9L163.2 369.1Z" fill="#00ffff"/>
<path d="M161.5 368.6L164.4 363.4L167.3 368.6Z" fill="#00ffff"/>
<path d="M164.2 366.6L167.2 361.4L170.1 366.6Z" fill="#00ffff"/>
<path d="M166.6 369.2L169.5 364.0L172.4 369.2Z" fill="#00ffff"/>
<path d="M169.2 366.2L172.1 361.0L175.0 366.2Z" fill="#00ffff"/>
<path d="M172.1 373.6L175.0 368.4L177.9 373.6Z" fill="#00ffff"/>
<path d="M175.4 371.6L178.3 366.4L181.2 371.6Z" fill="#00ffff"/>
<path d="M178.0 368.6L180.9 363.4L183.8 368.6Z" fill="#00ffff"/>
<path d="M184.1 366.6L187.0 361.4L189.9 366.6Z" fill="#00ffff"/>
<path d="M187.5 354.3L190.4 349.1L193.3 354.3Z" fill="#00ffff"/>
<path d="M190.2 358.1L193.2 352.8L196.1 358.1Z" fill="#00ffff"/>
<path d="M213.2 351.5L216.1 346.3L219.0 351.5Z" fill="#00ffff"/>
<path d="M241.2 354.1L244.1 348.9L247.0 354.1Z" fill="#00ffff"/>
<path d="M259.2 361.2L262.2 356.0L265.1 361.2Z" fill="#00ffff"/>
<path d="M265.4 360.2L268.3 355.0L271.2 360.2Z" fill="#00ffff"/>
<path d="M269.4 377.8L272.4 372.6L275.3 377.8Z" fill="#00ffff"/>
<path d="M273.9 370.0L276.9 364.8L279.8 370.0Z" fill="#00ffff"/>
<path d="M280.9 365.6L283.8 360.3L286.8 365.6Z" fill="#00ffff"/>
<path d="M291.6 372.9L294.5 367.7L297.4 372.9Z" fill="#00ffff"/>
<path d="M294.9 357.3L297.9 352.1L300.8 357.3Z" fill="#00ffff"/>
<path d="M301.4 363.7L304.4 358.4L307.3 363.7Z" fill="#00ffff"/>
<path d="M306.7 342.6L309.6 337.4L312.6 342.6Z" fill="#00ffff"/>
<path d="M312.6 349.5L315.5 344.3L318.4 349.5Z" fill="#00ffff"/>
<path d="M329.8 348.5L332.7 343.3L335.6 348.5Z" fill="#00ffff"/>
<path d="M373.8 374.5L376.7 369.2L379.6 374.5Z" fill="#00ffff"/>
<path d="M378.7 372.0L381.6 366.8L384.6 372.0Z" fill="#00ffff"/>
<path d="M383.6 377.1L386.5 371.9L389.4 377.1Z" fill="#00ffff"/>
<path d="M389.1 360.8L392.0 355.5L394.9 360.8Z" fill="#00ffff"/>
<path d="M400.8 336.0L403.7 330.8L406.6 336.0Z" fill="#00ffff"/>
<path d="M406.6 340.0L409.5 334.8L412.4 340.0Z" fill="#00ffff"/>
<path d="M61.0 383.1L64.0 377.9L67.0 383.1Z" fill="#00ff00"/>
<path d="M64.5 380.5L67.5 375.3L70.5 380.5Z" fill="#00ff00"/>
<path d="M75.5 365.0L78.5 359.8L81.5 365.0Z" fill="#00ff00"/>
<path d="M145.2 364.6L148.2 359.3L151.1 364.6Z" fill="#00ff00"/>
<path d="M157.4 378.7L160.3 373.5L163.2 378.7Z" fill="#00ff00"/>
<path d="M161.5 366.4L164.4 361.2L167.3 366.4Z" fill="#00ff00"/>
<path d="M164.2 385.6L167.2 380.4L170.1 385.6Z" fill="#00ff00"/>
<path d="M166.6 370.9L169.5 365.7L172.4 370.9Z" fill="#00ff00"/>
<path d="M169.2 384.5L172.1 379.3L175.0 384.5Z" fill="#00ff00"/>
<path d="M172.1 390.0L175.0 384.8L177.9 390.0Z" fill="#00ff00"/>
<path d="M175.4 381.0L178.3 375.8L181.2 381.0Z" fill="#00ff00"/>
<path d="M178.0 376.8L180.9 371.6L183.8 376.8Z" fill="#00ff00"/>
<path d="M184.1 369.2L187.0 364.0L189.9 369.2Z" fill="#00ff00"/>
<path d="M187.5 374.2L190.4 369.0L193.3 374.2Z" fill="#00ff00"/>
<path d="M190.2 365.2L193.2 360.0L196.1 365.2Z" fill="#00ff00"/>
<path d="M213.2 367.0L216.1 361.8L219.0 367.0Z" fill="#00ff00"/>
<path d="M241.2 364.9L244.1 359.7L247.0 364.9Z" fill="#00ff00"/>
<path d="M259.2 377.5L262.2 372.3L265.1 377.5Z" fill="#00ff00"/>
<path d="M265.4 355.3L268.3 350.1L271.2 355.3Z" fill="#00ff00"/>
<path d="M269.4 375.8L272.4 370.6L275.3 375.8Z" fill="#00ff00"/>
<path d="M273.9 386.3L276.9 381.1L279.8 386.3Z" fill="#00ff00"/>
<path d="M280.9 382.2L283.8 377.0L286.8 382.2Z" fill="#00ff00"/>
<path d="M291.6 375.2L294.5 370.0L297.4 375.2Z" fill="#00ff00"/>
<path d="M294.9 375.2L297.9 370.0L300.8 375.2Z" fill="#00ff00"/>
<path d="M301.4 371.0L304.4 365.8L307.3 371.0Z" fill="#00ff00"/>
<path d="M306.7 352.8L309.6 347.6L312.6 352.8Z" fill="#00ff00"/>
<path d="M312.6 340.0L315.5 334.8L318.4 340.0Z" fill="#00ff00"/>
<path d="M329.8 350.5L332.7 345.3L335.6 350.5Z" fill="#00ff00"/>
<path d="M373.8 377.1L376.7 371.9L379.6 377.1Z" fill="#00ff00"/>
<path d="M378.7 378.6L381.6 373.3L384.6 378.6Z" fill="#00ff00"/>
<path d="M383.6 386.3L386.5 381.1L389.4 386.3Z" fill="#00ff00"/>
<path d="M389.1 364.9L392.0 359.6L394.9 364.9Z" fill="#00ff00"/>
<path d="M400.8 339.9L403.7 334.7L406.6 339.9Z" fill="#00ff00"/>
<path d="M406.6 327.2L409.5 322.0L412.4 327.2Z" fill="#00ff00"/>
<path d="M61.0 381.1L64.0 375.8L67.0 381.1Z" fill="#ff0000"/>
<path d="M64.5 381.4L67.5 376.2L70.5 381.4Z" fill="#ff0000"/>
<path d="M64.5 390.2L67.5 385.0L70.5 390.2Z" fill="#ff0000"/>
<path d="M75.5 362.6L78.5 357.4L81.5 362.6Z" fill="#ff0000"/>
<path d="M145.2 363.3L148.2 358.1L151.1 363.3Z" fill="#ff0000"/>
<path d="M157.4 373.6L160.3 368.4L163.2 373.6Z" fill="#ff0000"/>
<path d="M161.5 364.4L164.4 359.2L167.3 364.4Z" fill="#ff0000"/>
<path d="M164.2 380.6L167.2 375.4L170.1 380.6Z" fill="#ff0000"/>
<path d="M166.6 370.3L169.5 365.1L172.4 370.3Z" fill="#ff0000"/>
<path d="M169.2 382.6L172.1 377.4L175.0 382.6Z" fill="#ff0000"/>
<path d="M172.1 385.6L175.0 380.4L177.9 385.6Z" fill="#ff0000"/>
<path d="M175.4 375.8L178.3 370.6L181.2 375.8Z" fill="#ff0000"/>
<path d="M178.0 372.2L180.9 367.0L183.8 372.2Z" fill="#ff0000"/>
<path d="M184.1 367.4L187.0 362.2L189.9 367.4Z" fill="#ff0000"/>
<path d="M187.5 374.8L190.4 369.6L193.3 374.8Z" fill="#ff0000"/>
<path d="M190.2 362.5L193.2 357.3L196.1 362.5Z" fill="#ff0000"/>
<path d="M213.2 363.8L216.1 358.6L219.0 363.8Z" fill="#ff0000"/>
<path d="M241.2 368.1L244.1 362.9L247.0 368.1Z" fill="#ff0000"/>
<path d="M259.2 372.3L262.2 367.1L265.1 372.3Z" fill="#ff0000"/>
<path d="M265.4 363.1L268.3 357.9L271.2 363.1Z" fill="#ff0000"/>
<path d="M269.4 372.4L272.4 367.2L275.3 372.4Z" fill="#ff0000"/>
<path d="M273.9 389.5L276.9 384.3L279.8 389.5Z" fill="#ff0000"/>
<path d="M280.9 386.6L283.8 381.4L286.8 386.6Z" fill="#ff0000"/>
<path d="M291.6 376.8L294.5 371.6L297.4 376.8Z" fill="#ff0000"/>
<path d="M294.9 376.8L297.9 371.6L300.8 376.8Z" fill="#ff0000"/>
<path d="M301.4 368.6L304.4 363.3L307.3 368.6Z" fill="#ff0000"/>
<path d="M306.7 353.4L309.6 348.2L312.6 353.4Z" fill="#ff0000"/>
<path d="M312.6 344.3L315.5 339.1L318.4 344.3Z" fill="#ff0000"/>
<path d="M329.8 347.6L332.7 342.3L335.6 347.6Z" fill="#ff0000"/>
<path d="M373.8 379.0L376.7 373.8L379.6 379.0Z" fill="#ff0000"/>
<path d="M378.7 381.0L381.6 375.8L384.6 381.0Z" fill="#ff0000"/>
<path d="M383.6 385.6L386.5 380.4L389.4 385.6Z" fill="#ff0000"/>
<path d="M389.1 369.2L392.0 364.0L394.9 369.2Z" fill="#ff0000"/>
<path d="M400.8 332.1L403.7 326.9L406.6 332.1Z" fill="#ff0000"/>
<path d="M406.6 322.0L409.5 316.8L412.4 322.0Z" fill="#ff0000"/>
<path d="M61.0 385.5L64.0 380.2L67.0 385.5Z" fill="#2e6b4f"/>
<path d="M64.5 379.7L67.5 374.4L70.5 379.7Z" fill="#2e6b4f"/>
<path d="M75.5 367.3L78.5 362.1L81.5 367.3Z" fill="#2e6b4f"/>
<path d="M145.2 365.8L148.2 360.6L151.1 365.8Z" fill="#2e6b4f"/>
<path d="M157.4 383.8L160.3 378.6L163.2 383.8Z" fill="#2e6b4f"/>
<path d="M161.5 368.5L164.4 363.3L167.3 368.5Z" fill="#2e6b4f"/>
<path d="M164.2 390.6L167.2 385.4L170.1 390.6Z" fill="#2e6b4f"/>
<path d="M166.6 371.5L169.5 366.3L172.4 371.5Z" fill="#2e6b4f"/>
<path d="M169.2 386.4L172.1 381.2L175.0 386.4Z" fill="#2e6b4f"/>
<path d="M172.1 394.3L175.0 389.1L177.9 394.3Z" fill="#2e6b4f"/>
<path d="M175.4 386.2L178.3 380.9L181.2 386.2Z" fill="#2e6b4f"/>
<path d="M178.0 381.5L180.9 376.2L183.8 381.5Z" fill="#2e6b4f"/>
<path d="M184.1 371.0L187.0 365.8L189.9 371.0Z" fill="#2e6b4f"/>
<path d="M187.5 373.6L190.4 368.4L193.3 373.6Z" fill="#2e6b4f"/>
<path d="M190.2 367.9L193.2 362.7L196.1 367.9Z" fill="#2e6b4f"/>
<path d="M213.2 370.3L216.1 365.1L219.0 370.3Z" fill="#2e6b4f"/>
<path d="M241.2 362.2L244.1 357.0L247.0 362.2Z" fill="#2e6b4f"/>
<path d="M259.2 382.7L262.2 377.5L265.1 382.7Z" fill="#2e6b4f"/>
<path d="M265.4 329.0L268.3 323.8L271.2 329.0Z" fill="#2e6b4f"/>
<path d="M269.4 379.2L272.4 374.0L275.3 379.2Z" fill="#2e6b4f"/>
<path d="M273.9 383.1L276.9 377.9L279.8 383.1Z" fill="#2e6b4f"/>
<path d="M280.9 377.8L283.8 372.6L286.8 377.8Z" fill="#2e6b4f"/>
<path d="M291.6 373.7L294.5 368.5L297.4 373.7Z" fill="#2e6b4f"/>
<path d="M294.9 373.7L297.9 368.5L300.8 373.7Z" fill="#2e6b4f"/>
<path d="M301.4 352.4L304.4 347.2L307.3 352.4Z" fill="#2e6b4f"/>
<path d="M306.7 352.2L309.6 347.0L312.6 352.2Z" fill="#2e6b4f"/>
<path d="M312.6 335.8L315.5 330.6L318.4 335.8Z" fill="#2e6b4f"/>
<path d="M329.8 348.3L332.7 343.1L335.6 348.3Z" fill="#2e6b4f"/>
<path d="M373.8 375.1L376.7 369.9L379.6 375.1Z" fill="#2e6b4f"/>
<path d="M378.7 376.1L381.6 370.9L384.6 376.1Z" fill="#2e6b4f"/>
<path d="M383.6 387.0L386.5 381.8L389.4 387.0Z" fill="#2e6b4f"/>
<path d="M389.1 360.5L392.0 355.3L394.9 360.5Z" fill="#2e6b4f"/>
<path d="M400.8 354.0L403.7 348.8L406.6 354.0Z" fill="#2e6b4f"/>
<path d="M406.6 332.1L409.5 326.9L412.4 332.1Z" fill="#2e6b4f"/>
<path d="M61.0 387.8L64.0 382.6L67.0 387.8Z" fill="#f0a020"/>
<path d="M64.5 378.8L67.5 373.6L70.5 378.8Z" fill="#f0a020"/>
<path d="M75.5 364.3L78.5 359.1L81.5 364.3Z" fill="#f0a020"/>
<path d="M145.2 367.0L148.2 361.8L151.1 367.0Z" fill="#f0a020"/>
<path d="M157.4 388.9L160.3 383.7L163.2 388.9Z" fill="#f0a020"/>
<path d="M161.5 370.5L164.4 365.3L167.3 370.5Z" fill="#f0a020"/>
<path d="M164.2 395.5L167.2 390.3L170.1 395.5Z" fill="#f0a020"/>
<path d="M166.6 372.0L169.5 366.8L172.4 372.0Z" fill="#f0a020"/>
<path d="M169.2 388.3L172.1 383.1L175.0 388.3Z" fill="#f0a020"/>
<path d="M172.1 398.7L175.0 393.5L177.9 398.7Z" fill="#f0a020"/>
<path d="M175.4 391.3L178.3 386.1L181.2 391.3Z" fill="#f0a020"/>
<path d="M178.0 386.1L180.9 380.9L183.8 386.1Z" fill="#f0a020"/>
<path d="M184.1 372.8L187.0 367.6L189.9 372.8Z" fill="#f0a020"/>
<path d="M187.5 373.1L190.4 367.9L193.3 373.1Z" fill="#f0a020"/>
<path d="M190.2 370.6L193.2 365.4L196.1 370.6Z" fill="#f0a020"/>
<path d="M213.2 373.5L216.1 368.3L219.0 373.5Z" fill="#f0a020"/>
<path d="M241.2 359.5L244.1 354.3L247.0 359.5Z" fill="#f0a020"/>
<path d="M259.2 379.8L262.2 374.5L265.1 379.8Z" fill="#f0a020"/>
<path d="M265.4 336.8L268.3 331.6L271.2 336.8Z" fill="#f0a020"/>
<path d="M269.4 382.7L272.4 377.5L275.3 382.7Z" fill="#f0a020"/>
<path d="M273.9 380.0L276.9 374.8L279.8 380.0Z" fill="#f0a020"/>
<path d="M280.9 379.4L283.8 374.2L286.8 379.4Z" fill="#f0a020"/>
<path d="M291.6 372.1L294.5 366.9L297.4 372.1Z" fill="#f0a020"/>
<path d="M294.9 372.1L297.9 366.9L300.8 372.1Z" fill="#f0a020"/>
<path d="M301.4 357.9L304.4 352.7L307.3 357.9Z" fill="#f0a020"/>
<path d="M306.7 351.7L309.6 346.5L312.6 351.7Z" fill="#f0a020"/>
<path d="M312.6 344.6L315.5 339.4L318.4 344.6Z" fill="#f0a020"/>
<path d="M329.8 346.1L332.7 340.8L335.6 346.1Z" fill="#f0a020"/>
<path d="M373.8 382.9L376.7 377.7L379.6 382.9Z" fill="#f0a020"/>
<path d="M378.7 373.7L381.6 368.4L384.6 373.7Z" fill="#f0a020"/>
<path d="M383.6 387.6L386.5 382.4L389.4 387.6Z" fill="#f0a020"/>
<path d="M389.1 366.8L392.0 361.6L394.9 366.8Z" fill="#f0a020"/>
<path d="M400.8 367.7L403.7 362.5L406.6 367.7Z" fill="#f0a020"/>
<path d="M406.6 337.0L409.5 331.8L412.4 337.0Z" fill="#f0a020"/>
<path d="M61.0 394.0L64.0 388.8L67.0 394.0Z" fill="#808080"/>
<path d="M64.5 377.9L67.5 372.7L70.5 377.9Z" fill="#808080"/>
<path d="M75.5 369.6L78.5 364.4L81.5 369.6Z" fill="#808080"/>
<path d="M145.2 363.6L148.2 358.4L151.1 363.6Z" fill="#808080"/>
<path d="M157.4 394.0L160.3 388.8L163.2 394.0Z" fill="#808080"/>
<path d="M161.5 372.6L164.4 367.4L167.3 372.6Z" fill="#808080"/>
<path d="M164.2 400.5L167.2 395.3L170.1 400.5Z" fill="#808080"/>
<path d="M166.6 372.6L169.5 367.4L172.4 372.6Z" fill="#808080"/>
<path d="M169.2 390.2L172.1 385.0L175.0 390.2Z" fill="#808080"/>
<path d="M172.1 403.0L175.0 397.8L177.9 403.0Z" fill="#808080"/>
<path d="M175.4 396.5L178.3 391.3L181.2 396.5Z" fill="#808080"/>
<path d="M178.0 390.7L180.9 385.5L183.8 390.7Z" fill="#808080"/>
<path d="M184.1 374.6L187.0 369.4L189.9 374.6Z" fill="#808080"/>
<path d="M187.5 372.5L190.4 367.3L193.3 372.5Z" fill="#808080"/>
<path d="M190.2 367.9L193.2 362.6L196.1 367.9Z" fill="#808080"/>
<path d="M213.2 375.6L216.1 370.4L219.0 375.6Z" fill="#808080"/>
<path d="M241.2 376.7L244.1 371.5L247.0 376.7Z" fill="#808080"/>
<path d="M259.2 376.8L262.2 371.6L265.1 376.8Z" fill="#808080"/>
<path d="M265.4 356.3L268.3 351.1L271.2 356.3Z" fill="#808080"/>
<path d="M269.4 386.1L272.4 380.9L275.3 386.1Z" fill="#808080"/>
<path d="M273.9 376.8L276.9 371.6L279.8 376.8Z" fill="#808080"/>
<path d="M280.9 381.1L283.8 375.9L286.8 381.1Z" fill="#808080"/>
<path d="M291.6 370.6L294.5 365.4L297.4 370.6Z" fill="#808080"/>
<path d="M294.9 370.6L297.9 365.4L300.8 370.6Z" fill="#808080"/>
<path d="M301.4 363.5L304.4 358.3L307.3 363.5Z" fill="#808080"/>
<path d="M306.7 351.1L309.6 345.9L312.6 351.1Z" fill="#808080"/>
<path d="M312.6 359.2L315.5 354.0L318.4 359.2Z" fill="#808080"/>
<path d="M329.8 343.8L332.7 338.6L335.6 343.8Z" fill="#808080"/>
<path d="M373.8 390.7L376.7 385.5L379.6 390.7Z" fill="#808080"/>
<path d="M378.7 371.2L381.6 366.0L384.6 371.2Z" fill="#808080"/>
<path d="M383.6 388.3L386.5 383.1L389.4 388.3Z" fill="#808080"/>
<path d="M389.1 373.1L392.0 367.9L394.9 373.1Z" fill="#808080"/>
<path d="M400.8 370.2L403.7 365.0L406.6 370.2Z" fill="#808080"/>
<path d="M406.6 343.9L409.5 338.7L412.4 343.9Z" fill="#808080"/>
<path d="M61.0 396.6L64.0 391.4L67.0 396.6Z" fill="#ff00ff"/>
<path d="M64.5 388.4L67.5 383.2L70.5 388.4Z" fill="#ff00ff"/>
<path d="M75.5 380.2L78.5 375.0L81.5 380.2Z" fill="#ff00ff"/>
<path d="M145.2 382.6L148.2 377.4L151.1 382.6Z" fill="#ff00ff"/>
<path d="M157.4 379.7L160.3 374.5L163.2 379.7Z" fill="#ff00ff"/>
<path d="M161.5 380.6L164.4 375.4L167.3 380.6Z" fill="#ff00ff"/>
<path d="M164.2 390.9L167.2 385.7L170.1 390.9Z" fill="#ff00ff"/>
<path d="M166.6 377.6L169.5 372.4L172.4 377.6Z" fill="#ff00ff"/>
<path d="M169.2 373.6L172.1 368.4L175.0 373.6Z" fill="#ff00ff"/>
<path d="M172.1 385.6L175.0 380.4L177.9 385.6Z" fill="#ff00ff"/>
<path d="M175.4 385.6L178.3 380.4L181.2 385.6Z" fill="#ff00ff"/>
<path d="M178.0 381.6L180.9 376.4L183.8 381.6Z" fill="#ff00ff"/>
<path d="M184.1 383.6L187.0 378.4L189.9 383.6Z" fill="#ff00ff"/>
<path d="M187.5 382.6L190.4 377.4L193.3 382.6Z" fill="#ff00ff"/>
<path d="M190.2 396.9L193.2 391.7L196.1 396.9Z" fill="#ff00ff"/>
<path d="M213.2 388.9L216.1 383.7L219.0 388.9Z" fill="#ff00ff"/>
<path d="M241.2 384.2L244.1 379.0L247.0 384.2Z" fill="#ff00ff"/>
<path d="M242.6 385.8L245.5 380.6L248.4 385.8Z" fill="#ff00ff"/>
<path d="M259.2 392.4L262.2 387.2L265.1 392.4Z" fill="#ff00ff"/>
<path d="M260.2 393.1L263.2 387.9L266.1 393.1Z" fill="#ff00ff"/>
<path d="M265.4 370.0L268.3 364.8L271.2 370.0Z" fill="#ff00ff"/>
<path d="M269.4 399.3L272.4 394.1L275.3 399.3Z" fill="#ff00ff"/>
<path d="M273.9 383.6L276.9 378.4L279.8 383.6Z" fill="#ff00ff"/>
<path d="M280.9 392.4L283.8 387.2L286.8 392.4Z" fill="#ff00ff"/>
<path d="M291.6 382.7L294.5 377.5L297.4 382.7Z" fill="#ff00ff"/>
<path d="M294.9 381.7L297.9 376.5L300.8 381.7Z" fill="#ff00ff"/>
<path d="M295.6 383.1L298.5 377.9L301.4 383.1Z" fill="#ff00ff"/>
<path d="M301.4 371.9L304.4 366.7L307.3 371.9Z" fill="#ff00ff"/>
<path d="M306.7 371.9L309.6 366.7L312.6 371.9Z" fill="#ff00ff"/>
<path d="M309.1 363.1L312.0 357.9L314.9 363.1Z" fill="#ff00ff"/>
<path d="M312.6 364.1L315.5 358.9L318.4 364.1Z" fill="#ff00ff"/>
<path d="M329.8 353.8L332.7 348.6L335.6 353.8Z" fill="#ff00ff"/>
<path d="M373.8 390.7L376.7 385.5L379.6 390.7Z" fill="#ff00ff"/>
<path d="M378.7 392.7L381.6 387.5L384.6 392.7Z" fill="#ff00ff"/>
<path d="M380.2 396.5L383.2 391.3L386.1 396.5Z" fill="#ff00ff"/>
<path d="M383.6 396.6L386.5 391.4L389.4 396.6Z" fill="#ff00ff"/>
<path d="M383.7 416.2L386.6 411.0L389.6 416.2Z" fill="#ff00ff"/>
<path d="M385.9 397.3L388.9 392.1L391.8 397.3Z" fill="#ff00ff"/>
<path d="M389.1 379.0L392.0 373.8L394.9 379.0Z" fill="#ff00ff"/>
<path d="M400.8 387.8L403.7 382.6L406.6 387.8Z" fill="#ff00ff"/>
<path d="M406.6 357.5L409.5 352.3L412.4 357.5Z" fill="#ff00ff"/>
<path d="M61.0 393.1L64.0 387.9L67.0 393.1Z" fill="#7e2f8e"/>
<path d="M64.5 392.6L67.5 387.4L70.5 392.6Z" fill="#7e2f8e"/>
<path d="M75.5 374.9L78.5 369.7L81.5 374.9Z" fill="#7e2f8e"/>
<path d="M145.2 373.9L148.2 368.7L151.1 373.9Z" fill="#7e2f8e"/>
<path d="M157.4 376.6L160.3 371.4L163.2 376.6Z" fill="#7e2f8e"/>
<path d="M161.5 374.6L164.4 369.4L167.3 374.6Z" fill="#7e2f8e"/>
<path d="M164.2 378.6L167.2 373.4L170.1 378.6Z" fill="#7e2f8e"/>
<path d="M166.6 388.7L169.5 383.5L172.4 388.7Z" fill="#7e2f8e"/>
<path d="M169.2 374.6L172.1 369.4L175.0 374.6Z" fill="#7e2f8e"/>
<path d="M172.1 378.6L175.0 373.4L177.9 378.6Z" fill="#7e2f8e"/>
<path d="M175.4 381.6L178.3 376.4L181.2 381.6Z" fill="#7e2f8e"/>
<path d="M178.0 384.6L180.9 379.4L183.8 384.6Z" fill="#7e2f8e"/>
<path d="M184.1 387.6L187.0 382.3L189.9 387.6Z" fill="#7e2f8e"/>
<path d="M187.5 377.6L190.4 372.4L193.3 377.6Z" fill="#7e2f8e"/>
<path d="M190.2 380.6L193.2 375.4L196.1 380.6Z" fill="#7e2f8e"/>
<path d="M213.2 382.5L216.1 377.3L219.0 382.5Z" fill="#7e2f8e"/>
<path d="M241.2 379.9L244.1 374.7L247.0 379.9Z" fill="#7e2f8e"/>
<path d="M259.2 384.6L262.2 379.4L265.1 384.6Z" fill="#7e2f8e"/>
<path d="M265.4 378.6L268.3 373.4L271.2 378.6Z" fill="#7e2f8e"/>
<path d="M269.4 379.7L272.4 374.5L275.3 379.7Z" fill="#7e2f8e"/>
<path d="M273.9 394.4L276.9 389.2L279.8 394.4Z" fill="#7e2f8e"/>
<path d="M280.9 387.6L283.8 382.4L286.8 387.6Z" fill="#7e2f8e"/>
<path d="M291.6 365.1L294.5 359.9L297.4 365.1Z" fill="#7e2f8e"/>
<path d="M294.9 363.1L297.9 357.9L300.8 363.1Z" fill="#7e2f8e"/>
<path d="M301.4 370.5L304.4 365.2L307.3 370.5Z" fill="#7e2f8e"/>
<path d="M306.7 361.2L309.6 356.0L312.6 361.2Z" fill="#7e2f8e"/>
<path d="M312.6 359.2L315.5 354.0L318.4 359.2Z" fill="#7e2f8e"/>
<path d="M329.8 348.5L332.7 343.3L335.6 348.5Z" fill="#7e2f8e"/>
<path d="M373.8 384.9L376.7 379.7L379.6 384.9Z" fill="#7e2f8e"/>
<path d="M378.7 386.8L381.6 381.6L384.6 386.8Z" fill="#7e2f8e"/>
<path d="M383.6 389.7L386.5 384.5L389.4 389.7Z" fill="#7e2f8e"/>
<path d="M389.1 380.5L392.0 375.2L394.9 380.5Z" fill="#7e2f8e"/>
<path d="M400.8 381.0L403.7 375.8L406.6 381.0Z" fill="#7e2f8e"/>
<path d="M406.6 351.7L409.5 346.5L412.4 351.7Z" fill="#7e2f8e"/>
<path d="M61.0 430.8L64.0 425.6L67.0 430.8Z" fill="#999955"/>
<path d="M64.5 373.7L67.5 368.5L70.5 373.7Z" fill="#999955"/>
<path d="M75.5 400.8L78.5 395.6L81.5 400.8Z" fill="#999955"/>
<path d="M145.2 348.1L148.2 342.9L151.1 348.1Z" fill="#999955"/>
<path d="M157.4 444.2L160.3 439.0L163.2 444.2Z" fill="#999955"/>
<path d="M161.5 387.6L164.4 382.4L167.3 387.6Z" fill="#999955"/>
<path d="M164.2 412.5L167.2 407.3L170.1 412.5Z" fill="#999955"/>
<path d="M166.6 409.9L169.5 404.7L172.4 409.9Z" fill="#999955"/>
<path d="M169.2 405.5L172.1 400.3L175.0 405.5Z" fill="#999955"/>
<path d="M172.1 443.6L175.0 438.4L177.9 443.6Z" fill="#999955"/>
<path d="M175.4 440.4L178.3 435.2L181.2 440.4Z" fill="#999955"/>
<path d="M178.0 408.7L180.9 403.5L183.8 408.7Z" fill="#999955"/>
<path d="M184.1 400.4L187.0 395.2L189.9 400.4Z" fill="#999955"/>
<path d="M187.5 392.6L190.4 387.4L193.3 392.6Z" fill="#999955"/>
<path d="M190.2 421.4L193.2 416.2L196.1 421.4Z" fill="#999955"/>
<path d="M213.2 384.2L216.1 379.0L219.0 384.2Z" fill="#999955"/>
<path d="M213.9 420.3L216.8 415.1L219.8 420.3Z" fill="#999955"/>
<path d="M241.2 393.2L244.1 388.0L247.0 393.2Z" fill="#999955"/>
<path d="M259.2 426.3L262.2 421.1L265.1 426.3Z" fill="#999955"/>
<path d="M260.2 374.9L263.2 369.7L266.1 374.9Z" fill="#999955"/>
<path d="M260.2 444.0L263.2 438.8L266.1 444.0Z" fill="#999955"/>
<path d="M265.4 387.6L268.3 382.4L271.2 387.6Z" fill="#999955"/>
<path d="M269.4 415.8L272.4 410.6L275.3 415.8Z" fill="#999955"/>
<path d="M273.9 419.4L276.9 414.2L279.8 419.4Z" fill="#999955"/>
<path d="M280.9 420.3L283.8 415.1L286.8 420.3Z" fill="#999955"/>
<path d="M291.6 394.4L294.5 389.2L297.4 394.4Z" fill="#999955"/>
<path d="M294.9 389.5L297.9 384.3L300.8 389.5Z" fill="#999955"/>
<path d="M295.6 400.3L298.5 395.1L301.4 400.3Z" fill="#999955"/>
<path d="M295.6 402.1L298.5 396.9L301.4 402.1Z" fill="#999955"/>
<path d="M301.4 421.2L304.4 416.0L307.3 421.2Z" fill="#999955"/>
<path d="M306.7 386.6L309.6 381.4L312.6 386.6Z" fill="#999955"/>
<path d="M309.1 392.4L312.0 387.2L314.9 392.4Z" fill="#999955"/>
<path d="M309.1 432.1L312.0 426.9L314.9 432.1Z" fill="#999955"/>
<path d="M312.6 369.0L315.5 363.8L318.4 369.0Z" fill="#999955"/>
<path d="M312.9 391.5L315.8 386.3L318.8 391.5Z" fill="#999955"/>
<path d="M312.9 411.2L315.8 406.0L318.8 411.2Z" fill="#999955"/>
<path d="M329.8 371.4L332.7 366.2L335.6 371.4Z" fill="#999955"/>
<path d="M373.8 389.7L376.7 384.5L379.6 389.7Z" fill="#999955"/>
<path d="M378.7 421.9L381.6 416.7L384.6 421.9Z" fill="#999955"/>
<path d="M380.2 421.9L383.2 416.7L386.1 421.9Z" fill="#999955"/>
<path d="M383.6 431.7L386.5 426.5L389.4 431.7Z" fill="#999955"/>
<path d="M385.9 421.9L388.9 416.7L391.8 421.9Z" fill="#999955"/>
<path d="M389.1 378.0L392.0 372.8L394.9 378.0Z" fill="#999955"/>
<path d="M400.8 425.2L403.7 420.0L406.6 425.2Z" fill="#999955"/>
<path d="M406.6 371.2L409.5 366.0L412.4 371.2Z" fill="#999955"/>
<path d="M61.0 379.0L64.0 373.8L67.0 379.0Z" fill="#a00000"/>
<path d="M64.5 369.0L67.5 363.8L70.5 369.0Z" fill="#a00000"/>
<path d="M75.5 361.4L78.5 356.2L81.5 361.4Z" fill="#a00000"/>
<path d="M145.2 362.1L148.2 356.9L151.1 362.1Z" fill="#a00000"/>
<path d="M157.4 370.6L160.3 365.4L163.2 370.6Z" fill="#a00000"/>
<path d="M161.5 362.3L164.4 357.1L167.3 362.3Z" fill="#a00000"/>
<path d="M164.2 365.6L167.2 360.4L170.1 365.6Z" fill="#a00000"/>
<path d="M166.6 369.7L169.5 364.5L172.4 369.7Z" fill="#a00000"/>
<path d="M169.2 365.2L172.1 360.0L175.0 365.2Z" fill="#a00000"/>
<path d="M172.1 379.6L175.0 374.4L177.9 379.6Z" fill="#a00000"/>
<path d="M175.4 370.6L178.3 365.4L181.2 370.6Z" fill="#a00000"/>
<path d="M178.0 367.6L180.9 362.4L183.8 367.6Z" fill="#a00000"/>
<path d="M184.1 365.6L187.0 360.4L189.9 365.6Z" fill="#a00000"/>
<path d="M187.5 353.3L190.4 348.1L193.3 353.3Z" fill="#a00000"/>
<path d="M190.2 359.8L193.2 354.6L196.1 359.8Z" fill="#a00000"/>
<path d="M213.2 360.6L216.1 355.4L219.0 360.6Z" fill="#a00000"/>
<path d="M241.2 361.6L244.1 356.4L247.0 361.6Z" fill="#a00000"/>
<path d="M259.2 367.1L262.2 361.9L265.1 367.1Z" fill="#a00000"/>
<path d="M265.4 359.2L268.3 354.0L271.2 359.2Z" fill="#a00000"/>
<path d="M269.4 369.0L272.4 363.8L275.3 369.0Z" fill="#a00000"/>
<path d="M273.9 369.0L276.9 363.8L279.8 369.0Z" fill="#a00000"/>
<path d="M280.9 363.1L283.8 357.9L286.8 363.1Z" fill="#a00000"/>
<path d="M291.6 353.4L294.5 348.2L297.4 353.4Z" fill="#a00000"/>
<path d="M294.9 356.3L297.9 351.1L300.8 356.3Z" fill="#a00000"/>
<path d="M301.2 318.6L304.2 313.4L307.1 318.6Z" fill="#a00000"/>
<path d="M301.4 366.1L304.4 360.9L307.3 366.1Z" fill="#a00000"/>
<path d="M301.7 358.3L304.6 353.1L307.6 358.3Z" fill="#a00000"/>
<path d="M306.7 341.6L309.6 336.4L312.6 341.6Z" fill="#a00000"/>
<path d="M312.6 348.5L315.5 343.3L318.4 348.5Z" fill="#a00000"/>
<path d="M329.8 344.6L332.7 339.4L335.6 344.6Z" fill="#a00000"/>
<path d="M373.8 381.0L376.7 375.8L379.6 381.0Z" fill="#a00000"/>
<path d="M378.7 376.1L381.6 370.9L384.6 376.1Z" fill="#a00000"/>
<path d="M383.6 384.9L386.5 379.7L389.4 384.9Z" fill="#a00000"/>
<path d="M389.1 364.4L392.0 359.2L394.9 364.4Z" fill="#a00000"/>
<path d="M400.8 348.7L403.7 343.5L406.6 348.7Z" fill="#a00000"/>
<path d="M406.6 347.8L409.5 342.6L412.4 347.8Z" fill="#a00000"/>
<path d="M61.0 400.2L64.0 395.0L67.0 400.2Z" fill="#000000"/>
<path d="M64.5 386.1L67.5 380.9L70.5 386.1Z" fill="#000000"/>
<path d="M64.5 400.2L67.5 395.0L70.5 400.2Z" fill="#000000"/>
<path d="M75.5 377.9L78.5 372.7L81.5 377.9Z" fill="#000000"/>
<path d="M145.2 360.2L148.2 355.0L151.1 360.2Z" fill="#000000"/>
<path d="M157.4 399.1L160.3 393.9L163.2 399.1Z" fill="#000000"/>
<path d="M161.5 383.9L164.4 378.7L167.3 383.9Z" fill="#000000"/>
<path d="M164.2 405.5L167.2 400.3L170.1 405.5Z" fill="#000000"/>
<path d="M166.6 399.8L169.5 394.6L172.4 399.8Z" fill="#000000"/>
<path d="M169.2 392.1L172.1 386.9L175.0 392.1Z" fill="#000000"/>
<path d="M172.1 407.4L175.0 402.2L177.9 407.4Z" fill="#000000"/>
<path d="M175.4 401.7L178.3 396.5L181.2 401.7Z" fill="#000000"/>
<path d="M178.0 395.3L180.9 390.1L183.8 395.3Z" fill="#000000"/>
<path d="M184.1 391.5L187.0 386.3L189.9 391.5Z" fill="#000000"/>
<path d="M187.5 371.9L190.4 366.7L193.3 371.9Z" fill="#000000"/>
<path d="M190.2 365.1L193.2 359.9L196.1 365.1Z" fill="#000000"/>
<path d="M213.2 357.3L216.1 352.1L219.0 357.3Z" fill="#000000"/>
<path d="M241.2 371.3L244.1 366.1L247.0 371.3Z" fill="#000000"/>
<path d="M242.6 373.6L245.5 368.4L248.4 373.6Z" fill="#000000"/>
<path d="M259.2 387.6L262.2 382.4L265.1 387.6Z" fill="#000000"/>
<path d="M260.2 415.8L263.2 410.6L266.1 415.8Z" fill="#000000"/>
<path d="M265.4 375.8L268.3 370.6L271.2 375.8Z" fill="#000000"/>
<path d="M269.4 389.5L272.4 384.3L275.3 389.5Z" fill="#000000"/>
<path d="M273.9 393.4L276.9 388.2L279.8 393.4Z" fill="#000000"/>
<path d="M280.9 382.7L283.8 377.5L286.8 382.7Z" fill="#000000"/>
<path d="M291.6 369.0L294.5 363.8L297.4 369.0Z" fill="#000000"/>
<path d="M294.9 369.0L297.9 363.8L300.8 369.0Z" fill="#000000"/>
<path d="M301.2 311.4L304.2 306.2L307.1 311.4Z" fill="#000000"/>
<path d="M301.4 369.0L304.4 363.8L307.3 369.0Z" fill="#000000"/>
<path d="M306.7 350.5L309.6 345.3L312.6 350.5Z" fill="#000000"/>
<path d="M306.7 362.2L309.6 357.0L312.6 362.2Z" fill="#000000"/>
<path d="M309.1 356.3L312.0 351.1L314.9 356.3Z" fill="#000000"/>
<path d="M312.6 354.4L315.5 349.2L318.4 354.4Z" fill="#000000"/>
<path d="M329.8 341.6L332.7 336.4L335.6 341.6Z" fill="#000000"/>
<path d="M373.8 398.5L376.7 393.3L379.6 398.5Z" fill="#000000"/>
<path d="M374.6 402.4L377.5 397.2L380.4 402.4Z" fill="#000000"/>
<path d="M378.7 402.4L381.6 397.2L384.6 402.4Z" fill="#000000"/>
<path d="M380.2 413.7L383.2 408.5L386.1 413.7Z" fill="#000000"/>
<path d="M383.6 389.0L386.5 383.8L389.4 389.0Z" fill="#000000"/>
<path d="M383.7 436.6L386.6 431.4L389.6 436.6Z" fill="#000000"/>
<path d="M385.9 410.4L388.9 405.2L391.8 410.4Z" fill="#000000"/>
<path d="M389.1 381.9L392.0 376.7L394.9 381.9Z" fill="#000000"/>
<path d="M400.8 372.8L403.7 367.6L406.6 372.8Z" fill="#000000"/>
<path d="M406.6 364.9L409.5 359.7L412.4 364.9Z" fill="#000000"/>
<path d="M47.3 277.3V449.8H420.5" stroke="#262626" stroke-width="1.2" fill="none" opacity="0.85"/>
<path d="M47.3 277.3h4 M47.3 306.1h4 M47.3 334.8h4 M47.3 363.6h4 M47.3 392.3h4 M47.3 421.1h4 M47.3 449.8h4 M71.1 449.8v-4 M129.4 449.8v-4 M187.7 449.8v-4 M246.1 449.8v-4 M304.4 449.8v-4 M362.7 449.8v-4" stroke="#262626" stroke-width="1" fill="none" opacity="0.85"/>
<path d="M420.5 277.3V449.8 M420.5 449.9h-3 M420.5 418.6h-3 M420.5 387.3h-3 M420.5 356.0h-3 M420.5 324.7h-3 M420.5 293.4h-3" stroke="#4dbeee" stroke-width="1.2" fill="none"/>
<text x="41.2" y="282.1" font-size="10.6" fill="#111" text-anchor="end" font-weight="normal" font-family="'Liberation Sans', sans-serif" stroke="#111" stroke-width="0.18">30</text>
<text x="41.2" y="310.85" font-size="10.6" fill="#111" text-anchor="end" font-weight="normal" font-family="'Liberation Sans', sans-serif" stroke="#111" stroke-width="0.18">20</text>
<text x="41.2" y="339.6" font-size="10.6" fill="#111" text-anchor="end" font-weight="normal" font-family="'Liberation Sans', sans-serif" stroke="#111" stroke-width="0.18">10</text>
<text x="41.2" y="368.35" font-size="10.6" fill="#111" text-anchor="end" font-weight="normal" font-family="'Liberation Sans', sans-serif" stroke="#111" stroke-width="0.18">0</text>
<text x="41.2" y="397.1" font-size="10.6" fill="#111" text-anchor="end" font-weight="normal" font-family="'Liberation Sans', sans-serif" stroke="#111" stroke-width="0.18">-10</text>
<text x="41.2" y="425.85" font-size="10.6" fill="#111" text-anchor="end" font-weight="normal" font-family="'Liberation Sans', sans-serif" stroke="#111" stroke-width="0.18">-20</text>
<text x="41.2" y="454.6" font-size="10.6" fill="#111" text-anchor="end" font-weight="normal" font-family="'Liberation Sans', sans-serif" stroke="#111" stroke-width="0.18">-30</text>
<text x="71.1" y="466.5" font-size="11" fill="#111" text-anchor="middle" font-weight="normal" font-family="'Liberation Sans', sans-serif" textLength="27" lengthAdjust="spacingAndGlyphs" stroke="#111" stroke-width="0.18">08/15</text>
<text x="129.42" y="466.5" font-size="11" fill="#111" text-anchor="middle" font-weight="normal" font-family="'Liberation Sans', sans-serif" textLength="27" lengthAdjust="spacingAndGlyphs" stroke="#111" stroke-width="0.18">03/16</text>
<text x="187.74" y="466.5" font-size="11" fill="#111" text-anchor="middle" font-weight="normal" font-family="'Liberation Sans', sans-serif" textLength="27" lengthAdjust="spacingAndGlyphs" stroke="#111" stroke-width="0.18">09/16</text>
<text x="246.06" y="466.5" font-size="11" fill="#111" text-anchor="middle" font-weight="normal" font-family="'Liberation Sans', sans-serif" textLength="27" lengthAdjust="spacingAndGlyphs" stroke="#111" stroke-width="0.18">04/17</text>
<text x="304.38" y="466.5" font-size="11" fill="#111" text-anchor="middle" font-weight="normal" font-family="'Liberation Sans', sans-serif" textLength="27" lengthAdjust="spacingAndGlyphs" stroke="#111" stroke-width="0.18">11/17</text>
<text x="362.70000000000005" y="466.5" font-size="11" fill="#111" text-anchor="middle" font-weight="normal" font-family="'Liberation Sans', sans-serif" textLength="27" lengthAdjust="spacingAndGlyphs" stroke="#111" stroke-width="0.18">05/18</text>
<text x="424.7" y="454.9" font-size="10.5" fill="#4dbeee" text-anchor="start" font-weight="normal" font-family="'Liberation Sans', sans-serif" stroke="#4dbeee" stroke-width="0.18">0</text>
<text x="424.7" y="423.4" font-size="10.5" fill="#4dbeee" text-anchor="start" font-weight="normal" font-family="'Liberation Sans', sans-serif" stroke="#4dbeee" stroke-width="0.18">200</text>
<text x="424.7" y="392.09999999999997" font-size="10.5" fill="#4dbeee" text-anchor="start" font-weight="normal" font-family="'Liberation Sans', sans-serif" stroke="#4dbeee" stroke-width="0.18">400</text>
<text x="200.6" y="484" font-size="12.5" fill="#111" text-anchor="start" font-weight="normal" font-family="'Liberation Sans', sans-serif" textLength="64.2" lengthAdjust="spacingAndGlyphs" stroke="#111" stroke-width="0.18">Month/Year</text>
<text x="14.5" y="271" font-size="13.5" fill="#111" text-anchor="start" font-weight="bold" font-family="'Liberation Sans', sans-serif" textLength="435.8" lengthAdjust="spacingAndGlyphs" stroke="#111" stroke-width="0.18">LCFR Sentinel 2A Percent Difference after Viewing angle correction</text>
<text transform="translate(19.4,364.25) rotate(-90)" font-size="12.7" fill="#111" text-anchor="middle" font-weight="normal" font-family="'Liberation Sans', sans-serif" textLength="131.6" lengthAdjust="spacingAndGlyphs" stroke="#111" stroke-width="0.18">Relative difference (%)</text>
<text transform="translate(458.4,364.9) rotate(-90)" font-size="11.2" fill="#4dbeee" text-anchor="middle" font-weight="normal" font-family="'Liberation Sans', sans-serif" textLength="128" lengthAdjust="spacingAndGlyphs" stroke="#4dbeee" stroke-width="0.18">Viewing azimuth angle</text>
<rect x="463.3" y="280.0" width="71.69999999999999" height="170.5" fill="#fff" stroke="#262626" stroke-width="1" opacity="1"/>
<path d="M466 288.6H492" stroke="#c8c8ff" stroke-width="1" opacity="0.75"/>
<path d="M476.4 291.2L479.4 286.0L482.3 291.2Z" fill="#0000ff"/>
<text x="494.6" y="292.20000000000005" font-size="10.2" fill="#111" text-anchor="start" font-weight="normal" font-family="'Liberation Sans', sans-serif" stroke="#111" stroke-width="0.18">CA</text>
<path d="M466 302.6H492" stroke="#b8ffff" stroke-width="1" opacity="0.75"/>
<path d="M476.4 305.2L479.4 299.9L482.3 305.2Z" fill="#00ffff"/>
<text x="494.6" y="306.15000000000003" font-size="10.2" fill="#111" text-anchor="start" font-weight="normal" font-family="'Liberation Sans', sans-serif" stroke="#111" stroke-width="0.18">BLUE</text>
<path d="M466 316.5H492" stroke="#c0ffc0" stroke-width="1" opacity="0.75"/>
<path d="M476.4 319.1L479.4 313.9L482.3 319.1Z" fill="#00ff00"/>
<text x="494.6" y="320.1" font-size="10.2" fill="#111" text-anchor="start" font-weight="normal" font-family="'Liberation Sans', sans-serif" stroke="#111" stroke-width="0.18">GREEN</text>
<path d="M466 330.5H492" stroke="#ffc8c8" stroke-width="1" opacity="0.75"/>
<path d="M476.4 333.1L479.4 327.9L482.3 333.1Z" fill="#ff0000"/>
<text x="494.6" y="334.05000000000007" font-size="10.2" fill="#111" text-anchor="start" font-weight="normal" font-family="'Liberation Sans', sans-serif" stroke="#111" stroke-width="0.18">RED</text>
<path d="M466 344.4H492" stroke="#c8d8d0" stroke-width="1" opacity="0.75"/>
<path d="M476.4 347.0L479.4 341.8L482.3 347.0Z" fill="#2e6b4f"/>
<text x="494.6" y="348.00000000000006" font-size="10.2" fill="#111" text-anchor="start" font-weight="normal" font-family="'Liberation Sans', sans-serif" stroke="#111" stroke-width="0.18">Veg1</text>
<path d="M466 358.4H492" stroke="#fde0b0" stroke-width="1" opacity="0.75"/>
<path d="M476.4 361.0L479.4 355.8L482.3 361.0Z" fill="#f0a020"/>
<text x="494.6" y="361.95000000000005" font-size="10.2" fill="#111" text-anchor="start" font-weight="normal" font-family="'Liberation Sans', sans-serif" stroke="#111" stroke-width="0.18">Veg2</text>
<path d="M466 372.3H492" stroke="#dcdcdc" stroke-width="1" opacity="0.75"/>
<path d="M476.4 374.9L479.4 369.7L482.3 374.9Z" fill="#808080"/>
<text x="494.6" y="375.90000000000003" font-size="10.2" fill="#111" text-anchor="start" font-weight="normal" font-family="'Liberation Sans', sans-serif" stroke="#111" stroke-width="0.18">Veg3</text>
<path d="M466 386.2H492" stroke="#ffc8ff" stroke-width="1" opacity="0.75"/>
<path d="M476.4 388.9L479.4 383.6L482.3 388.9Z" fill="#ff00ff"/>
<text x="494.6" y="389.85" font-size="10.2" fill="#111" text-anchor="start" font-weight="normal" font-family="'Liberation Sans', sans-serif" stroke="#111" stroke-width="0.18">NIR</text>
<path d="M466 400.2H492" stroke="#dcc8e0" stroke-width="1" opacity="0.75"/>
<path d="M476.4 402.8L479.4 397.6L482.3 402.8Z" fill="#7e2f8e"/>
<text x="494.6" y="403.80000000000007" font-size="10.2" fill="#111" text-anchor="start" font-weight="normal" font-family="'Liberation Sans', sans-serif" stroke="#111" stroke-width="0.18">Veg4</text>
<path d="M466 414.2H492" stroke="#e6e6d0" stroke-width="1" opacity="0.75"/>
<path d="M476.4 416.8L479.4 411.6L482.3 416.8Z" fill="#999955"/>
<text x="494.6" y="417.75000000000006" font-size="10.2" fill="#111" text-anchor="start" font-weight="normal" font-family="'Liberation Sans', sans-serif" stroke="#111" stroke-width="0.18">Water</text>
<path d="M466 428.1H492" stroke="#e8c0c0" stroke-width="1" opacity="0.75"/>
<path d="M476.4 430.7L479.4 425.5L482.3 430.7Z" fill="#a00000"/>
<text x="494.6" y="431.70000000000005" font-size="10.2" fill="#111" text-anchor="start" font-weight="normal" font-family="'Liberation Sans', sans-serif" stroke="#111" stroke-width="0.18">SWIR1</text>
<path d="M466 442.1H492" stroke="#c8c8c8" stroke-width="1" opacity="0.75"/>
<path d="M476.4 444.7L479.4 439.4L482.3 444.7Z" fill="#000000"/>
<text x="494.6" y="445.65000000000003" font-size="10.2" fill="#111" text-anchor="start" font-weight="normal" font-family="'Liberation Sans', sans-serif" stroke="#111" stroke-width="0.18">SWIR2</text>
<text x="141.0" y="502.3" font-size="12" fill="#111" text-anchor="start" font-weight="normal" font-family="'Liberation Serif', serif" textLength="240" lengthAdjust="spacingAndGlyphs">(<tspan font-weight="bold">b</tspan>) After view azimuth angle effect correction</text>
</svg></body></html>
